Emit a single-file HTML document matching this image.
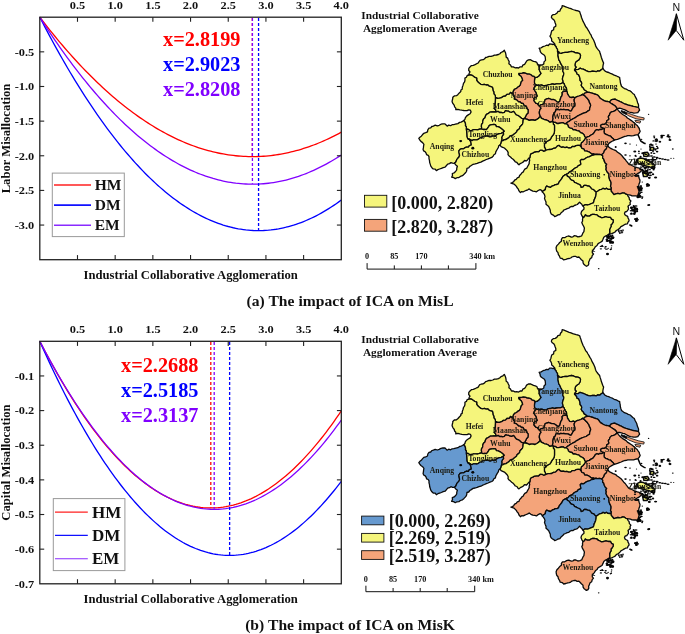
<!DOCTYPE html>
<html><head><meta charset="utf-8"><title>ICA</title>
<style>
html,body{margin:0;padding:0;background:#fff;}
body{width:685px;height:634px;overflow:hidden;}
svg{display:block;}
text{font-family:"Liberation Serif",serif;font-weight:bold;fill:#111;}
.tk{font-size:12px;}
.an{font-size:20.3px;}
.lg{font-size:16.8px;}
.ax{font-size:12.65px;}
.cap{font-size:15.6px;word-spacing:0.2px;}
.ttl{font-size:11.35px;}
.ml{font-size:18px;}
.sb{font-size:8.2px;}
.ct{font-size:7.7px;fill:#1a1a10;}
.n{font-family:"Liberation Sans",sans-serif;font-weight:normal;font-size:10.6px;}
</style></head><body>
<svg width="685" height="634" viewBox="0 0 685 634">
<rect width="685" height="634" fill="#fff"/>
<polyline points="39.80,17.20 42.31,20.48 44.82,23.71 47.34,26.91 49.85,30.07 52.36,33.19 54.88,36.27 57.39,39.32 59.90,42.32 62.41,45.28 64.92,48.21 67.44,51.10 69.95,53.94 72.46,56.75 74.97,59.52 77.49,62.25 80.00,64.94 82.51,67.60 85.03,70.21 87.54,72.79 90.05,75.32 92.56,77.82 95.07,80.28 97.59,82.70 100.10,85.08 102.61,87.42 105.12,89.72 107.64,91.98 110.15,94.21 112.66,96.39 115.17,98.54 117.69,100.65 120.20,102.72 122.71,104.75 125.22,106.74 127.74,108.69 130.25,110.60 132.76,112.47 135.27,114.31 137.79,116.10 140.30,117.86 142.81,119.58 145.32,121.26 147.84,122.90 150.35,124.50 152.86,126.06 155.38,127.58 157.89,129.07 160.40,130.51 162.91,131.92 165.43,133.29 167.94,134.62 170.45,135.91 172.96,137.16 175.48,138.37 177.99,139.54 180.50,140.67 183.01,141.77 185.52,142.82 188.04,143.84 190.55,144.82 193.06,145.76 195.57,146.66 198.09,147.52 200.60,148.34 203.11,149.12 205.62,149.87 208.14,150.57 210.65,151.24 213.16,151.86 215.68,152.45 218.19,153.00 220.70,153.51 223.21,153.98 225.73,154.42 228.24,154.81 230.75,155.16 233.26,155.48 235.77,155.76 238.29,155.99 240.80,156.19 243.31,156.35 245.82,156.47 248.34,156.55 250.85,156.60 253.36,156.60 255.88,156.56 258.39,156.49 260.90,156.38 263.41,156.23 265.93,156.03 268.44,155.80 270.95,155.54 273.46,155.23 275.98,154.88 278.49,154.49 281.00,154.07 283.51,153.61 286.02,153.10 288.54,152.56 291.05,151.98 293.56,151.36 296.07,150.70 298.59,150.01 301.10,149.27 303.61,148.49 306.12,147.68 308.64,146.83 311.15,145.93 313.66,145.00 316.18,144.03 318.69,143.02 321.20,141.98 323.71,140.89 326.23,139.76 328.74,138.60 331.25,137.39 333.76,136.15 336.27,134.87 338.79,133.55 341.30,132.19" fill="none" stroke="#ff0000" stroke-width="1.3"/>
<polyline points="39.80,17.20 42.31,22.07 44.82,26.89 47.34,31.65 49.85,36.36 52.36,41.01 54.88,45.60 57.39,50.13 59.90,54.61 62.41,59.04 64.92,63.40 67.44,67.71 69.95,71.97 72.46,76.17 74.97,80.31 77.49,84.39 80.00,88.42 82.51,92.40 85.03,96.31 87.54,100.17 90.05,103.98 92.56,107.73 95.07,111.42 97.59,115.05 100.10,118.63 102.61,122.15 105.12,125.62 107.64,129.03 110.15,132.38 112.66,135.68 115.17,138.92 117.69,142.11 120.20,145.23 122.71,148.31 125.22,151.32 127.74,154.28 130.25,157.19 132.76,160.03 135.27,162.82 137.79,165.56 140.30,168.24 142.81,170.86 145.32,173.42 147.84,175.93 150.35,178.38 152.86,180.78 155.38,183.12 157.89,185.41 160.40,187.63 162.91,189.80 165.43,191.92 167.94,193.98 170.45,195.98 172.96,197.93 175.48,199.82 177.99,201.65 180.50,203.43 183.01,205.15 185.52,206.81 188.04,208.42 190.55,209.97 193.06,211.47 195.57,212.91 198.09,214.29 200.60,215.62 203.11,216.89 205.62,218.10 208.14,219.26 210.65,220.36 213.16,221.41 215.68,222.40 218.19,223.33 220.70,224.21 223.21,225.03 225.73,225.79 228.24,226.50 230.75,227.15 233.26,227.75 235.77,228.28 238.29,228.77 240.80,229.19 243.31,229.56 245.82,229.88 248.34,230.13 250.85,230.33 253.36,230.48 255.88,230.57 258.39,230.60 260.90,230.58 263.41,230.50 265.93,230.36 268.44,230.17 270.95,229.92 273.46,229.61 275.98,229.25 278.49,228.83 281.00,228.35 283.51,227.82 286.02,227.24 288.54,226.59 291.05,225.89 293.56,225.14 296.07,224.32 298.59,223.46 301.10,222.53 303.61,221.55 306.12,220.51 308.64,219.42 311.15,218.27 313.66,217.06 316.18,215.80 318.69,214.48 321.20,213.10 323.71,211.67 326.23,210.18 328.74,208.64 331.25,207.04 333.76,205.38 336.27,203.67 338.79,201.90 341.30,200.07" fill="none" stroke="#0000ff" stroke-width="1.3"/>
<polyline points="39.80,17.20 42.31,21.12 44.82,25.00 47.34,28.83 49.85,32.61 52.36,36.35 54.88,40.04 57.39,43.68 59.90,47.28 62.41,50.83 64.92,54.33 67.44,57.79 69.95,61.20 72.46,64.56 74.97,67.88 77.49,71.15 80.00,74.37 82.51,77.55 85.03,80.68 87.54,83.76 90.05,86.80 92.56,89.79 95.07,92.73 97.59,95.63 100.10,98.48 102.61,101.29 105.12,104.04 107.64,106.75 110.15,109.42 112.66,112.03 115.17,114.61 117.69,117.13 120.20,119.61 122.71,122.04 125.22,124.42 127.74,126.76 130.25,129.05 132.76,131.29 135.27,133.49 137.79,135.64 140.30,137.75 142.81,139.80 145.32,141.82 147.84,143.78 150.35,145.70 152.86,147.57 155.38,149.39 157.89,151.17 160.40,152.90 162.91,154.59 165.43,156.23 167.94,157.82 170.45,159.36 172.96,160.86 175.48,162.31 177.99,163.72 180.50,165.07 183.01,166.39 185.52,167.65 188.04,168.87 190.55,170.04 193.06,171.17 195.57,172.24 198.09,173.28 200.60,174.26 203.11,175.20 205.62,176.09 208.14,176.94 210.65,177.73 213.16,178.49 215.68,179.19 218.19,179.85 220.70,180.46 223.21,181.03 225.73,181.55 228.24,182.02 230.75,182.44 233.26,182.82 235.77,183.16 238.29,183.44 240.80,183.68 243.31,183.87 245.82,184.02 248.34,184.12 250.85,184.17 253.36,184.18 255.88,184.13 258.39,184.05 260.90,183.91 263.41,183.73 265.93,183.50 268.44,183.23 270.95,182.91 273.46,182.54 275.98,182.13 278.49,181.67 281.00,181.16 283.51,180.61 286.02,180.01 288.54,179.36 291.05,178.67 293.56,177.93 296.07,177.14 298.59,176.30 301.10,175.42 303.61,174.50 306.12,173.52 308.64,172.50 311.15,171.44 313.66,170.32 316.18,169.16 318.69,167.96 321.20,166.70 323.71,165.40 326.23,164.06 328.74,162.66 331.25,161.22 333.76,159.74 336.27,158.20 338.79,156.62 341.30,155.00" fill="none" stroke="#8000ff" stroke-width="1.3"/>
<line x1="252.35" y1="18.00" x2="252.35" y2="156.10" stroke="#ff0000" stroke-width="1.3" stroke-dasharray="3 2"/>
<line x1="258.56" y1="18.00" x2="258.56" y2="230.10" stroke="#0000ff" stroke-width="1.3" stroke-dasharray="3 2"/>
<line x1="252.42" y1="18.00" x2="252.42" y2="183.68" stroke="#8000ff" stroke-width="1.3" stroke-dasharray="3 2"/>
<rect x="39.80" y="17.20" width="301.50" height="242.50" fill="none" stroke="#222" stroke-width="1.3"/>
<line x1="77.49" y1="17.20" x2="77.49" y2="21.80" stroke="#222" stroke-width="1.1"/>
<line x1="77.49" y1="259.70" x2="77.49" y2="255.10" stroke="#222" stroke-width="1.1"/>
<line x1="115.17" y1="17.20" x2="115.17" y2="21.80" stroke="#222" stroke-width="1.1"/>
<line x1="115.17" y1="259.70" x2="115.17" y2="255.10" stroke="#222" stroke-width="1.1"/>
<line x1="152.86" y1="17.20" x2="152.86" y2="21.80" stroke="#222" stroke-width="1.1"/>
<line x1="152.86" y1="259.70" x2="152.86" y2="255.10" stroke="#222" stroke-width="1.1"/>
<line x1="190.55" y1="17.20" x2="190.55" y2="21.80" stroke="#222" stroke-width="1.1"/>
<line x1="190.55" y1="259.70" x2="190.55" y2="255.10" stroke="#222" stroke-width="1.1"/>
<line x1="228.24" y1="17.20" x2="228.24" y2="21.80" stroke="#222" stroke-width="1.1"/>
<line x1="228.24" y1="259.70" x2="228.24" y2="255.10" stroke="#222" stroke-width="1.1"/>
<line x1="265.93" y1="17.20" x2="265.93" y2="21.80" stroke="#222" stroke-width="1.1"/>
<line x1="265.93" y1="259.70" x2="265.93" y2="255.10" stroke="#222" stroke-width="1.1"/>
<line x1="303.61" y1="17.20" x2="303.61" y2="21.80" stroke="#222" stroke-width="1.1"/>
<line x1="303.61" y1="259.70" x2="303.61" y2="255.10" stroke="#222" stroke-width="1.1"/>
<text transform="translate(77.49,9.10) scale(1.03,0.93)" class="tk" text-anchor="middle">0.5</text>
<text transform="translate(115.17,9.10) scale(1.03,0.93)" class="tk" text-anchor="middle">1.0</text>
<text transform="translate(152.86,9.10) scale(1.03,0.93)" class="tk" text-anchor="middle">1.5</text>
<text transform="translate(190.55,9.10) scale(1.03,0.93)" class="tk" text-anchor="middle">2.0</text>
<text transform="translate(228.24,9.10) scale(1.03,0.93)" class="tk" text-anchor="middle">2.5</text>
<text transform="translate(265.93,9.10) scale(1.03,0.93)" class="tk" text-anchor="middle">3.0</text>
<text transform="translate(303.61,9.10) scale(1.03,0.93)" class="tk" text-anchor="middle">3.5</text>
<text transform="translate(341.30,9.10) scale(1.03,0.93)" class="tk" text-anchor="middle">4.0</text>
<line x1="39.80" y1="51.84" x2="44.20" y2="51.84" stroke="#222" stroke-width="1.1"/>
<line x1="341.30" y1="51.84" x2="336.90" y2="51.84" stroke="#222" stroke-width="1.1"/>
<text transform="translate(34.20,55.64) scale(1.03,0.93)" class="tk" text-anchor="end">-0.5</text>
<line x1="39.80" y1="86.49" x2="44.20" y2="86.49" stroke="#222" stroke-width="1.1"/>
<line x1="341.30" y1="86.49" x2="336.90" y2="86.49" stroke="#222" stroke-width="1.1"/>
<text transform="translate(34.20,90.29) scale(1.03,0.93)" class="tk" text-anchor="end">-1.0</text>
<line x1="39.80" y1="121.13" x2="44.20" y2="121.13" stroke="#222" stroke-width="1.1"/>
<line x1="341.30" y1="121.13" x2="336.90" y2="121.13" stroke="#222" stroke-width="1.1"/>
<text transform="translate(34.20,124.93) scale(1.03,0.93)" class="tk" text-anchor="end">-1.5</text>
<line x1="39.80" y1="155.77" x2="44.20" y2="155.77" stroke="#222" stroke-width="1.1"/>
<line x1="341.30" y1="155.77" x2="336.90" y2="155.77" stroke="#222" stroke-width="1.1"/>
<text transform="translate(34.20,159.57) scale(1.03,0.93)" class="tk" text-anchor="end">-2.0</text>
<line x1="39.80" y1="190.41" x2="44.20" y2="190.41" stroke="#222" stroke-width="1.1"/>
<line x1="341.30" y1="190.41" x2="336.90" y2="190.41" stroke="#222" stroke-width="1.1"/>
<text transform="translate(34.20,194.21) scale(1.03,0.93)" class="tk" text-anchor="end">-2.5</text>
<line x1="39.80" y1="225.06" x2="44.20" y2="225.06" stroke="#222" stroke-width="1.1"/>
<line x1="341.30" y1="225.06" x2="336.90" y2="225.06" stroke="#222" stroke-width="1.1"/>
<text transform="translate(34.20,228.86) scale(1.03,0.93)" class="tk" text-anchor="end">-3.0</text>
<text x="163.00" y="46.30" class="an" style="fill:#ff0000">x=2.8199</text>
<text x="163.00" y="70.95" class="an" style="fill:#0000ff">x=2.9023</text>
<text x="163.00" y="95.60" class="an" style="fill:#8000ff">x=2.8208</text>
<rect x="52.30" y="173.10" width="72.00" height="63.50" fill="#fff" stroke="#999" stroke-width="1"/>
<line x1="54.00" y1="185.00" x2="91.00" y2="185.00" stroke="#ff2020" stroke-width="1.60"/>
<text x="94.70" y="190.20" class="lg" style="font-size:15.5px">HM</text>
<line x1="54.00" y1="205.10" x2="91.00" y2="205.10" stroke="#1010ff" stroke-width="1.60"/>
<text x="94.70" y="210.30" class="lg" style="font-size:15.5px">DM</text>
<line x1="54.00" y1="225.20" x2="91.00" y2="225.20" stroke="#8a2bff" stroke-width="1.60"/>
<text x="94.70" y="230.40" class="lg" style="font-size:15.5px">EM</text>
<text x="190.7" y="278.60" class="ax" text-anchor="middle">Industrial Collaborative Agglomeration</text>
<text transform="translate(10.4,138.50) rotate(-90)" class="ax" text-anchor="middle">Labor Misallocation</text>
<polyline points="39.80,341.30 42.31,346.16 44.82,350.95 47.34,355.67 49.85,360.31 52.36,364.88 54.88,369.38 57.39,373.81 59.90,378.17 62.41,382.45 64.92,386.67 67.44,390.81 69.95,394.88 72.46,398.87 74.97,402.80 77.49,406.65 80.00,410.43 82.51,414.14 85.03,417.78 87.54,421.35 90.05,424.84 92.56,428.26 95.07,431.61 97.59,434.89 100.10,438.09 102.61,441.23 105.12,444.29 107.64,447.28 110.15,450.20 112.66,453.04 115.17,455.82 117.69,458.52 120.20,461.15 122.71,463.71 125.22,466.20 127.74,468.61 130.25,470.95 132.76,473.22 135.27,475.42 137.79,477.55 140.30,479.60 142.81,481.59 145.32,483.50 147.84,485.34 150.35,487.10 152.86,488.80 155.38,490.42 157.89,491.97 160.40,493.45 162.91,494.86 165.43,496.20 167.94,497.46 170.45,498.65 172.96,499.77 175.48,500.82 177.99,501.79 180.50,502.70 183.01,503.53 185.52,504.29 188.04,504.98 190.55,505.59 193.06,506.14 195.57,506.61 198.09,507.01 200.60,507.34 203.11,507.59 205.62,507.78 208.14,507.89 210.65,507.93 213.16,507.90 215.68,507.80 218.19,507.62 220.70,507.37 223.21,507.06 225.73,506.66 228.24,506.20 230.75,505.67 233.26,505.06 235.77,504.38 238.29,503.63 240.80,502.81 243.31,501.91 245.82,500.95 248.34,499.91 250.85,498.80 253.36,497.62 255.88,496.36 258.39,495.03 260.90,493.64 263.41,492.17 265.93,490.62 268.44,489.01 270.95,487.32 273.46,485.57 275.98,483.74 278.49,481.84 281.00,479.86 283.51,477.82 286.02,475.70 288.54,473.51 291.05,471.25 293.56,468.91 296.07,466.51 298.59,464.03 301.10,461.48 303.61,458.86 306.12,456.17 308.64,453.40 311.15,450.57 313.66,447.66 316.18,444.68 318.69,441.62 321.20,438.50 323.71,435.30 326.23,432.03 328.74,428.69 331.25,425.28 333.76,421.80 336.27,418.24 338.79,414.61 341.30,410.91" fill="none" stroke="#ff0000" stroke-width="1.3"/>
<polyline points="39.80,341.30 42.31,346.93 44.82,352.48 47.34,357.96 49.85,363.37 52.36,368.70 54.88,373.95 57.39,379.13 59.90,384.24 62.41,389.27 64.92,394.22 67.44,399.10 69.95,403.91 72.46,408.64 74.97,413.29 77.49,417.87 80.00,422.37 82.51,426.80 85.03,431.16 87.54,435.44 90.05,439.64 92.56,443.77 95.07,447.83 97.59,451.81 100.10,455.71 102.61,459.54 105.12,463.29 107.64,466.97 110.15,470.58 112.66,474.11 115.17,477.56 117.69,480.94 120.20,484.25 122.71,487.48 125.22,490.63 127.74,493.71 130.25,496.71 132.76,499.64 135.27,502.50 137.79,505.28 140.30,507.98 142.81,510.61 145.32,513.17 147.84,515.65 150.35,518.05 152.86,520.38 155.38,522.63 157.89,524.81 160.40,526.92 162.91,528.95 165.43,530.90 167.94,532.78 170.45,534.58 172.96,536.31 175.48,537.97 177.99,539.55 180.50,541.05 183.01,542.48 185.52,543.83 188.04,545.11 190.55,546.32 193.06,547.45 195.57,548.50 198.09,549.48 200.60,550.39 203.11,551.21 205.62,551.97 208.14,552.65 210.65,553.25 213.16,553.78 215.68,554.24 218.19,554.61 220.70,554.92 223.21,555.15 225.73,555.30 228.24,555.38 230.75,555.39 233.26,555.31 235.77,555.17 238.29,554.95 240.80,554.65 243.31,554.28 245.82,553.84 248.34,553.31 250.85,552.72 253.36,552.05 255.88,551.30 258.39,550.48 260.90,549.58 263.41,548.61 265.93,547.57 268.44,546.45 270.95,545.25 273.46,543.98 275.98,542.63 278.49,541.21 281.00,539.72 283.51,538.15 286.02,536.50 288.54,534.78 291.05,532.98 293.56,531.11 296.07,529.16 298.59,527.14 301.10,525.05 303.61,522.88 306.12,520.63 308.64,518.31 311.15,515.91 313.66,513.44 316.18,510.90 318.69,508.27 321.20,505.58 323.71,502.81 326.23,499.96 328.74,497.04 331.25,494.04 333.76,490.97 336.27,487.83 338.79,484.61 341.30,481.31" fill="none" stroke="#0000ff" stroke-width="1.3"/>
<polyline points="39.80,341.30 42.31,346.11 44.82,350.84 47.34,355.51 49.85,360.11 52.36,364.63 54.88,369.09 57.39,373.48 59.90,377.80 62.41,382.05 64.92,386.23 67.44,390.33 69.95,394.37 72.46,398.34 74.97,402.24 77.49,406.07 80.00,409.83 82.51,413.52 85.03,417.14 87.54,420.69 90.05,424.18 92.56,427.59 95.07,430.93 97.59,434.20 100.10,437.40 102.61,440.54 105.12,443.60 107.64,446.59 110.15,449.51 112.66,452.37 115.17,455.15 117.69,457.86 120.20,460.51 122.71,463.08 125.22,465.59 127.74,468.02 130.25,470.39 132.76,472.68 135.27,474.91 137.79,477.07 140.30,479.15 142.81,481.17 145.32,483.12 147.84,484.99 150.35,486.80 152.86,488.54 155.38,490.20 157.89,491.80 160.40,493.33 162.91,494.79 165.43,496.18 167.94,497.50 170.45,498.75 172.96,499.93 175.48,501.04 177.99,502.08 180.50,503.05 183.01,503.95 185.52,504.78 188.04,505.54 190.55,506.23 193.06,506.85 195.57,507.40 198.09,507.88 200.60,508.30 203.11,508.64 205.62,508.91 208.14,509.12 210.65,509.25 213.16,509.31 215.68,509.31 218.19,509.23 220.70,509.08 223.21,508.87 225.73,508.58 228.24,508.23 230.75,507.80 233.26,507.31 235.77,506.75 238.29,506.11 240.80,505.41 243.31,504.63 245.82,503.79 248.34,502.88 250.85,501.90 253.36,500.84 255.88,499.72 258.39,498.53 260.90,497.27 263.41,495.94 265.93,494.53 268.44,493.06 270.95,491.52 273.46,489.91 275.98,488.23 278.49,486.48 281.00,484.66 283.51,482.77 286.02,480.81 288.54,478.79 291.05,476.69 293.56,474.52 296.07,472.28 298.59,469.97 301.10,467.59 303.61,465.15 306.12,462.63 308.64,460.04 311.15,457.39 313.66,454.66 316.18,451.86 318.69,449.00 321.20,446.06 323.71,443.06 326.23,439.98 328.74,436.84 331.25,433.62 333.76,430.34 336.27,426.98 338.79,423.56 341.30,420.07" fill="none" stroke="#8000ff" stroke-width="1.3"/>
<line x1="210.81" y1="342.10" x2="210.81" y2="507.43" stroke="#ff0000" stroke-width="1.3" stroke-dasharray="3 2"/>
<line x1="229.63" y1="342.10" x2="229.63" y2="554.89" stroke="#0000ff" stroke-width="1.3" stroke-dasharray="3 2"/>
<line x1="214.20" y1="342.10" x2="214.20" y2="508.82" stroke="#8000ff" stroke-width="1.3" stroke-dasharray="3 2"/>
<rect x="39.80" y="341.30" width="301.50" height="242.50" fill="none" stroke="#222" stroke-width="1.3"/>
<line x1="77.49" y1="341.30" x2="77.49" y2="345.90" stroke="#222" stroke-width="1.1"/>
<line x1="77.49" y1="583.80" x2="77.49" y2="579.20" stroke="#222" stroke-width="1.1"/>
<line x1="115.17" y1="341.30" x2="115.17" y2="345.90" stroke="#222" stroke-width="1.1"/>
<line x1="115.17" y1="583.80" x2="115.17" y2="579.20" stroke="#222" stroke-width="1.1"/>
<line x1="152.86" y1="341.30" x2="152.86" y2="345.90" stroke="#222" stroke-width="1.1"/>
<line x1="152.86" y1="583.80" x2="152.86" y2="579.20" stroke="#222" stroke-width="1.1"/>
<line x1="190.55" y1="341.30" x2="190.55" y2="345.90" stroke="#222" stroke-width="1.1"/>
<line x1="190.55" y1="583.80" x2="190.55" y2="579.20" stroke="#222" stroke-width="1.1"/>
<line x1="228.24" y1="341.30" x2="228.24" y2="345.90" stroke="#222" stroke-width="1.1"/>
<line x1="228.24" y1="583.80" x2="228.24" y2="579.20" stroke="#222" stroke-width="1.1"/>
<line x1="265.93" y1="341.30" x2="265.93" y2="345.90" stroke="#222" stroke-width="1.1"/>
<line x1="265.93" y1="583.80" x2="265.93" y2="579.20" stroke="#222" stroke-width="1.1"/>
<line x1="303.61" y1="341.30" x2="303.61" y2="345.90" stroke="#222" stroke-width="1.1"/>
<line x1="303.61" y1="583.80" x2="303.61" y2="579.20" stroke="#222" stroke-width="1.1"/>
<text transform="translate(77.49,333.20) scale(1.03,0.93)" class="tk" text-anchor="middle">0.5</text>
<text transform="translate(115.17,333.20) scale(1.03,0.93)" class="tk" text-anchor="middle">1.0</text>
<text transform="translate(152.86,333.20) scale(1.03,0.93)" class="tk" text-anchor="middle">1.5</text>
<text transform="translate(190.55,333.20) scale(1.03,0.93)" class="tk" text-anchor="middle">2.0</text>
<text transform="translate(228.24,333.20) scale(1.03,0.93)" class="tk" text-anchor="middle">2.5</text>
<text transform="translate(265.93,333.20) scale(1.03,0.93)" class="tk" text-anchor="middle">3.0</text>
<text transform="translate(303.61,333.20) scale(1.03,0.93)" class="tk" text-anchor="middle">3.5</text>
<text transform="translate(341.30,333.20) scale(1.03,0.93)" class="tk" text-anchor="middle">4.0</text>
<line x1="39.80" y1="375.94" x2="44.20" y2="375.94" stroke="#222" stroke-width="1.1"/>
<line x1="341.30" y1="375.94" x2="336.90" y2="375.94" stroke="#222" stroke-width="1.1"/>
<text transform="translate(34.20,379.74) scale(1.03,0.93)" class="tk" text-anchor="end">-0.1</text>
<line x1="39.80" y1="410.59" x2="44.20" y2="410.59" stroke="#222" stroke-width="1.1"/>
<line x1="341.30" y1="410.59" x2="336.90" y2="410.59" stroke="#222" stroke-width="1.1"/>
<text transform="translate(34.20,414.39) scale(1.03,0.93)" class="tk" text-anchor="end">-0.2</text>
<line x1="39.80" y1="445.23" x2="44.20" y2="445.23" stroke="#222" stroke-width="1.1"/>
<line x1="341.30" y1="445.23" x2="336.90" y2="445.23" stroke="#222" stroke-width="1.1"/>
<text transform="translate(34.20,449.03) scale(1.03,0.93)" class="tk" text-anchor="end">-0.3</text>
<line x1="39.80" y1="479.87" x2="44.20" y2="479.87" stroke="#222" stroke-width="1.1"/>
<line x1="341.30" y1="479.87" x2="336.90" y2="479.87" stroke="#222" stroke-width="1.1"/>
<text transform="translate(34.20,483.67) scale(1.03,0.93)" class="tk" text-anchor="end">-0.4</text>
<line x1="39.80" y1="514.51" x2="44.20" y2="514.51" stroke="#222" stroke-width="1.1"/>
<line x1="341.30" y1="514.51" x2="336.90" y2="514.51" stroke="#222" stroke-width="1.1"/>
<text transform="translate(34.20,518.31) scale(1.03,0.93)" class="tk" text-anchor="end">-0.5</text>
<line x1="39.80" y1="549.16" x2="44.20" y2="549.16" stroke="#222" stroke-width="1.1"/>
<line x1="341.30" y1="549.16" x2="336.90" y2="549.16" stroke="#222" stroke-width="1.1"/>
<text transform="translate(34.20,552.96) scale(1.03,0.93)" class="tk" text-anchor="end">-0.6</text>
<text transform="translate(34.20,587.60) scale(1.03,0.93)" class="tk" text-anchor="end">-0.7</text>
<text x="121.00" y="372.10" class="an" style="fill:#ff0000">x=2.2688</text>
<text x="121.00" y="396.95" class="an" style="fill:#0000ff">x=2.5185</text>
<text x="121.00" y="421.80" class="an" style="fill:#8000ff">x=2.3137</text>
<rect x="53.30" y="498.60" width="71.60" height="72.00" fill="#fff" stroke="#999" stroke-width="1"/>
<line x1="55.00" y1="512.20" x2="87.80" y2="512.20" stroke="#ff2020" stroke-width="1.20"/>
<text x="92.00" y="517.90" class="lg" style="font-size:17.0px">HM</text>
<line x1="55.00" y1="535.40" x2="87.80" y2="535.40" stroke="#1010ff" stroke-width="1.20"/>
<text x="92.00" y="541.10" class="lg" style="font-size:17.0px">DM</text>
<line x1="55.00" y1="558.75" x2="87.80" y2="558.75" stroke="#8a2bff" stroke-width="1.20"/>
<text x="92.00" y="564.45" class="lg" style="font-size:17.0px">EM</text>
<text x="190.7" y="602.70" class="ax" text-anchor="middle">Industrial Collaborative Agglomeration</text>
<text transform="translate(10.4,462.60) rotate(-90)" class="ax" text-anchor="middle">Capital Misallocation</text>
<g transform="translate(0,0.00)">
<g stroke="#0a0a0a" stroke-width="1.3" stroke-linejoin="round">
<polygon fill="#f5f57c" points="554.6,43.8 553.3,42.2 551.7,40.9 551.6,39.1 550.9,37.6 549.9,36.2 550.8,34.6 551.2,32.7 551.7,30.9 553.6,29.8 553.9,27.4 555.8,26.3 555.8,24.4 555.1,22.7 554.6,21.0 553.7,19.6 552.3,18.7 551.4,17.4 551.7,15.8 553.2,14.6 555.2,14.3 556.8,13.3 557.9,11.5 559.9,11.1 560.5,9.2 561.9,7.6 562.2,5.6 564.0,6.1 565.7,6.8 567.5,7.5 569.2,8.2 571.0,8.7 572.7,9.5 574.4,10.0 576.2,10.5 578.0,10.9 579.7,11.7 580.3,13.6 581.0,15.5 581.5,17.5 582.3,19.5 583.1,21.4 584.1,23.2 585.0,25.1 585.8,26.8 587.1,28.2 588.0,29.9 589.0,31.5 589.9,33.3 591.0,34.9 591.7,36.8 592.7,38.5 593.7,40.3 594.4,41.9 595.0,43.4 595.4,45.1 596.0,46.7 597.1,48.4 598.3,49.9 599.6,51.4 600.1,53.3 600.8,55.3 601.3,57.2 602.0,59.2 602.7,61.1 603.6,63.0 603.2,64.7 602.9,66.4 602.8,68.2 602.1,69.2 601.0,69.9 599.7,71.1 597.8,70.8 596.4,71.7 594.4,71.4 592.5,71.2 590.5,71.7 588.4,71.6 586.5,70.8 584.7,69.9 583.2,69.2 581.6,68.8 580.0,68.2 578.4,69.4 576.4,69.6 574.5,70.0 575.1,68.5 576.2,67.2 575.0,65.9 575.0,64.2 575.7,62.1 577.4,60.7 578.8,59.9 579.6,58.6 580.3,57.2 580.5,55.4 579.7,53.7 577.7,53.0 575.5,52.9 573.6,51.9 571.5,51.4 569.5,51.8 567.5,52.4 565.4,52.3 563.4,52.6 561.4,53.3 559.3,53.1 558.7,51.9 557.5,51.4 557.5,49.5 556.4,47.9 555.9,46.5 554.8,45.4"/>
<polygon fill="#f5f57c" points="554.6,43.8 554.8,45.4 555.9,46.5 556.4,47.9 557.5,49.5 557.5,51.4 558.1,53.4 558.0,55.5 558.4,57.5 558.7,59.6 559.9,61.4 560.7,63.4 561.7,65.2 562.8,67.0 563.0,69.2 562.8,71.2 563.8,73.0 563.6,75.0 563.0,76.5 562.5,78.1 562.5,79.7 563.1,81.1 563.0,82.6 561.5,83.3 560.0,83.8 558.4,83.8 556.5,83.9 554.5,84.4 552.6,83.8 550.6,84.4 548.6,84.6 546.7,85.5 544.7,85.7 542.8,85.4 540.9,85.0 539.0,85.7 536.9,85.1 535.0,86.1 535.3,84.6 534.5,83.2 534.4,81.2 534.6,79.3 535.0,77.4 536.9,77.3 538.5,76.2 539.8,74.8 540.9,73.3 540.1,72.0 539.5,70.7 539.1,69.2 539.1,67.1 539.7,65.1 541.9,65.2 543.8,63.9 544.0,61.9 545.5,60.4 545.4,58.6 545.2,56.8 544.4,55.2 542.9,54.2 541.4,53.2 540.3,51.7 540.0,49.8 539.1,48.2 541.2,47.8 543.0,46.6 545.0,46.0 546.5,45.2 548.3,45.5 549.6,44.0 551.4,44.1 553.1,44.5"/>
<polygon fill="#f5f57c" points="557.5,51.4 558.7,51.9 559.3,53.1 561.4,53.3 563.4,52.6 565.4,52.3 567.5,52.4 569.5,51.8 571.5,51.4 573.6,51.9 575.5,52.9 577.7,53.0 579.7,53.7 580.5,55.4 580.3,57.2 579.6,58.6 578.8,59.9 577.4,60.7 575.7,62.1 575.0,64.2 575.0,65.9 576.2,67.2 575.1,68.5 574.5,70.0 575.6,71.2 576.7,72.4 577.0,74.0 578.7,74.8 579.4,76.5 580.0,78.4 580.1,80.4 581.4,82.0 581.8,83.5 581.2,85.2 582.0,86.7 583.4,88.0 584.3,89.8 586.0,90.8 587.5,92.2 586.3,92.6 585.0,93.0 584.0,94.1 582.6,94.3 580.9,95.4 579.0,96.0 576.9,96.6 575.0,97.8 573.3,97.1 571.5,97.5 569.7,97.2 568.5,95.5 567.4,93.7 567.4,92.4 566.6,91.4 566.6,89.7 566.4,88.1 565.4,86.7 564.6,85.3 564.1,83.8 563.0,82.6 563.1,81.1 562.5,79.7 562.5,78.1 563.0,76.5 563.6,75.0 563.8,73.0 562.8,71.2 563.0,69.2 562.8,67.0 561.7,65.2 560.7,63.4 559.9,61.4 558.7,59.6 558.4,57.5 558.0,55.5 558.1,53.4"/>
<polygon fill="#f5f57c" points="574.5,70.0 576.4,69.6 578.4,69.4 580.0,68.2 581.6,68.8 583.2,69.2 584.7,69.9 586.5,70.8 588.4,71.6 590.5,71.7 592.5,71.2 594.4,71.4 596.4,71.7 597.8,70.8 599.7,71.1 601.0,69.9 602.1,69.2 602.8,68.2 603.8,69.7 605.1,71.1 606.8,72.0 608.7,72.5 610.4,73.4 612.4,74.1 614.2,75.2 616.2,75.8 617.9,76.7 619.7,77.5 619.8,79.1 620.2,80.6 620.3,82.2 620.8,84.3 621.5,86.3 622.9,87.5 624.4,88.6 626.4,89.2 628.2,90.3 630.2,90.9 631.5,92.1 632.8,93.4 634.3,94.5 635.0,96.1 635.8,97.6 636.6,99.1 637.1,100.9 637.6,102.7 638.4,104.4 638.6,105.8 638.4,107.3 636.6,107.1 634.9,106.7 633.3,106.4 631.7,106.0 630.2,105.5 628.2,105.1 626.3,104.4 624.4,103.8 622.9,103.0 621.3,102.1 619.7,101.5 618.2,100.6 616.5,100.0 615.0,99.1 613.2,99.3 611.5,99.7 610.4,100.9 609.2,102.0 607.7,101.5 606.0,101.4 604.5,100.9 603.1,100.1 601.8,99.3 600.4,98.5 599.5,97.3 598.6,96.0 597.5,95.0 595.9,94.4 594.3,94.0 592.8,93.3 591.1,92.9 589.3,92.3 587.5,92.2 586.0,90.8 584.3,89.8 583.4,88.0 582.0,86.7 581.2,85.2 581.8,83.5 581.4,82.0 580.1,80.4 580.0,78.4 579.4,76.5 578.7,74.8 577.0,74.0 576.7,72.4 575.6,71.2"/>
<polygon fill="#f4a47a" points="609.2,102.0 610.4,100.9 611.5,99.7 613.2,99.3 615.0,99.1 616.5,100.0 618.2,100.6 619.7,101.5 621.3,102.1 622.9,103.0 624.4,103.8 626.3,104.4 628.2,105.1 630.2,105.5 631.7,106.0 633.3,106.4 634.9,106.7 636.6,107.1 638.4,107.3 639.1,108.7 639.6,110.2 638.6,111.3 637.8,112.6 635.8,112.9 633.7,113.1 632.2,112.7 630.6,112.5 629.1,112.0 627.5,111.3 626.0,110.4 624.4,109.6 622.8,109.2 621.3,108.7 619.7,108.2 618.3,108.4 617.0,108.6 616.3,107.4 615.5,106.3 614.1,105.3 612.7,104.4 610.9,103.2"/>
<polygon fill="#f4a47a" points="512.8,93.9 512.9,92.1 513.5,90.5 514.6,89.0 516.4,88.4 517.7,87.0 519.3,86.2 520.4,84.6 520.7,82.9 521.2,81.4 522.6,80.2 522.0,78.4 521.2,76.6 519.5,75.3 518.7,73.3 520.3,73.4 521.9,73.1 523.4,72.7 525.4,73.0 527.2,73.8 529.2,73.9 530.8,74.5 532.2,75.8 533.9,76.2 535.0,77.4 534.6,79.3 534.4,81.2 534.5,83.2 535.3,84.6 535.0,86.1 534.3,87.5 533.9,89.0 535.0,90.8 536.2,92.6 536.6,94.4 537.4,96.1 535.9,97.6 533.9,98.4 534.4,99.6 533.9,100.7 534.9,101.9 535.8,103.1 537.4,103.6 538.3,104.9 539.5,106.0 540.4,107.1 541.1,108.3 540.0,109.6 539.5,111.2 539.3,112.9 539.7,114.8 540.5,116.5 539.4,117.2 538.7,118.2 536.9,119.4 535.0,120.4 533.1,120.0 531.1,120.0 529.2,120.4 527.4,119.4 525.5,118.9 523.5,118.7 525.1,117.6 525.9,115.8 526.6,114.3 527.9,113.2 528.1,111.4 528.1,109.8 526.9,108.5 526.6,107.0 525.2,106.0 523.8,105.0 523.0,103.4 521.4,103.4 520.2,102.0 518.6,101.9 517.4,100.6 516.0,99.5 514.2,99.0 514.4,97.1 513.1,95.6"/>
<polygon fill="#f5f57c" points="535.0,86.1 536.9,85.1 539.0,85.7 540.9,85.0 542.8,85.4 544.7,85.7 546.7,85.5 548.6,84.6 550.6,84.4 552.6,83.8 554.5,84.4 556.5,83.9 558.4,83.8 560.0,83.8 561.5,83.3 563.0,82.6 564.1,83.8 564.6,85.3 565.4,86.7 566.4,88.1 566.6,89.7 566.6,91.4 564.9,91.1 563.4,91.5 562.1,92.5 562.3,94.2 561.9,95.8 560.9,97.2 560.3,99.2 559.8,101.3 558.5,102.3 556.9,101.9 555.4,100.4 553.4,99.5 551.7,99.6 550.2,99.0 548.7,98.4 546.9,98.9 545.2,99.5 544.6,101.6 544.0,103.6 542.5,104.4 540.8,104.8 539.5,106.0 538.3,104.9 537.4,103.6 535.8,103.1 534.9,101.9 533.9,100.7 534.4,99.6 533.9,98.4 535.9,97.6 537.4,96.1 536.6,94.4 536.2,92.6 535.0,90.8 533.9,89.0 534.3,87.5"/>
<polygon fill="#f4a47a" points="539.5,106.0 540.8,104.8 542.5,104.4 544.0,103.6 544.6,101.6 545.2,99.5 546.9,98.9 548.7,98.4 550.2,99.0 551.7,99.6 553.4,99.5 555.4,100.4 556.9,101.9 558.5,102.3 559.8,101.3 560.3,99.2 560.9,97.2 561.9,95.8 562.3,94.2 562.1,92.5 563.4,91.5 564.9,91.1 566.6,91.4 567.4,92.4 567.4,93.7 568.5,95.5 569.7,97.2 571.5,97.5 573.3,97.1 575.0,97.8 574.1,99.8 574.4,101.9 575.1,103.8 575.0,105.9 573.6,106.9 572.6,108.3 571.9,109.8 570.9,111.2 569.6,110.8 568.5,110.0 567.0,109.7 565.4,109.8 563.9,109.4 562.3,109.6 560.7,109.3 559.2,110.0 557.5,109.5 555.7,110.0 555.4,111.8 553.9,112.9 553.3,114.9 552.8,117.0 553.1,118.8 552.5,120.6 553.4,122.3 551.6,121.7 549.9,122.3 548.3,120.9 546.4,120.0 544.5,119.7 542.8,118.8 541.2,118.1 540.5,116.5 539.7,114.8 539.3,112.9 539.5,111.2 540.0,109.6 541.1,108.3 540.4,107.1"/>
<polygon fill="#f4a47a" points="575.0,97.8 576.9,96.6 579.0,96.0 580.9,95.4 582.6,94.3 583.9,95.2 585.1,96.0 586.1,97.2 587.2,98.2 588.1,99.5 589.0,100.7 589.4,102.3 590.3,103.8 590.7,105.4 590.2,106.9 589.7,108.4 589.6,110.0 587.8,111.1 586.1,112.4 584.5,112.9 582.9,113.4 581.4,114.1 579.8,114.8 578.3,115.7 576.7,116.5 575.3,117.7 573.6,118.5 572.0,119.4 570.4,120.2 569.0,121.4 567.4,122.3 566.2,123.5 564.6,123.8 563.1,122.7 561.5,122.9 560.0,123.2 558.5,123.5 556.9,123.5 555.3,122.4 553.4,122.3 552.5,120.6 553.1,118.8 552.8,117.0 553.3,114.9 553.9,112.9 555.4,111.8 555.7,110.0 557.5,109.5 559.2,110.0 560.7,109.3 562.3,109.6 563.9,109.4 565.4,109.8 567.0,109.7 568.5,110.0 569.6,110.8 570.9,111.2 571.9,109.8 572.6,108.3 573.6,106.9 575.0,105.9 575.1,103.8 574.4,101.9 574.1,99.8"/>
<polygon fill="#f4a47a" points="582.6,94.3 584.0,94.1 585.0,93.0 586.3,92.6 587.5,92.2 589.3,92.3 591.1,92.9 592.8,93.3 594.3,94.0 595.9,94.4 597.5,95.0 598.6,96.0 599.5,97.3 600.4,98.5 601.8,99.3 603.1,100.1 604.5,100.9 606.0,101.4 607.7,101.5 609.2,102.0 610.9,103.2 612.7,104.4 614.1,105.3 615.5,106.3 616.3,107.4 617.0,108.6 615.6,110.4 613.6,111.3 611.5,111.8 610.0,113.3 609.5,115.0 608.4,116.4 608.5,117.7 609.0,119.0 608.1,120.0 606.9,120.5 606.6,122.1 605.9,123.6 604.2,124.3 602.3,124.3 601.2,124.8 600.5,125.8 601.3,127.4 602.9,127.9 604.5,128.5 603.0,128.8 601.6,129.5 600.0,129.3 598.6,130.2 596.8,129.6 595.4,130.5 594.3,132.3 593.0,134.0 591.1,135.0 589.3,136.3 587.2,136.9 586.0,138.0 584.9,136.9 584.1,134.9 582.6,133.4 580.5,132.6 579.0,131.0 577.1,130.6 575.2,129.9 573.2,129.9 572.0,128.4 570.0,128.1 568.5,127.0 567.8,125.0 566.2,123.5 567.4,122.3 569.0,121.4 570.4,120.2 572.0,119.4 573.6,118.5 575.3,117.7 576.7,116.5 578.3,115.7 579.8,114.8 581.4,114.1 582.9,113.4 584.5,112.9 586.1,112.4 587.8,111.1 589.6,110.0 589.7,108.4 590.2,106.9 590.7,105.4 590.3,103.8 589.4,102.3 589.0,100.7 588.1,99.5 587.2,98.2 586.1,97.2 585.1,96.0 583.9,95.2"/>
<polygon fill="#f4a47a" points="617.0,108.6 618.3,110.3 619.7,112.0 621.2,113.3 622.7,114.5 624.4,115.5 626.1,116.5 627.4,118.0 629.1,119.0 630.7,120.1 632.3,121.2 633.7,122.5 634.9,123.5 636.0,124.5 637.2,125.4 638.2,127.0 639.3,128.5 639.5,129.9 640.2,131.2 639.3,133.0 638.0,134.6 636.5,134.9 635.0,135.2 633.6,135.7 631.4,135.8 629.2,135.7 627.7,135.7 626.3,136.2 624.8,136.4 623.0,137.1 621.2,137.9 619.3,138.6 617.5,139.3 615.9,139.7 614.3,140.2 613.2,138.7 611.7,137.5 610.6,136.1 608.8,135.7 607.2,134.8 605.5,134.2 604.3,133.2 604.0,131.7 604.2,130.1 604.5,128.5 602.9,127.9 601.3,127.4 600.5,125.8 601.2,124.8 602.3,124.3 604.2,124.3 605.9,123.6 606.6,122.1 606.9,120.5 608.1,120.0 609.0,119.0 608.5,117.7 608.4,116.4 609.5,115.0 610.0,113.3 611.5,111.8 613.6,111.3 615.6,110.4"/>
<polygon fill="#f4a47a" points="604.5,128.5 603.0,128.8 601.6,129.5 600.0,129.3 598.6,130.2 596.8,129.6 595.4,130.5 594.3,132.3 593.0,134.0 591.1,135.0 589.3,136.3 587.2,136.9 586.0,138.0 584.9,138.7 584.3,139.8 583.0,141.4 581.4,142.7 580.8,144.7 581.0,146.8 581.9,148.4 583.9,149.1 584.7,150.9 586.8,151.1 588.8,151.8 590.5,153.1 591.8,154.1 593.5,153.9 594.9,154.6 596.2,154.4 597.5,154.5 599.6,154.3 601.6,154.8 602.8,153.8 603.8,152.6 604.5,150.4 606.2,149.0 606.9,147.3 607.5,145.5 608.3,144.5 608.8,143.4 610.2,142.4 611.7,141.5 613.0,140.8 614.3,140.2 613.2,138.7 611.7,137.5 610.6,136.1 608.8,135.7 607.2,134.8 605.5,134.2 604.3,133.2 604.0,131.7 604.2,130.1"/>
<polygon fill="#f5f57c" points="553.4,122.3 555.3,122.4 556.9,123.5 558.5,123.5 560.0,123.2 561.5,122.9 563.1,122.7 564.6,123.8 566.2,123.5 567.8,125.0 568.5,127.0 570.0,128.1 572.0,128.4 573.2,129.9 575.2,129.9 577.1,130.6 579.0,131.0 580.5,132.6 582.6,133.4 584.1,134.9 584.9,136.9 586.0,138.0 584.9,138.7 584.3,139.8 583.0,141.4 581.4,142.7 580.8,144.7 581.0,146.8 579.6,145.3 577.8,145.3 576.0,145.6 574.5,146.6 572.4,146.5 570.7,147.9 568.6,148.0 566.8,147.2 565.0,147.6 563.2,147.0 561.3,147.3 560.0,146.5 559.1,145.3 557.6,145.8 556.6,146.9 555.5,148.0 553.5,148.3 551.7,149.4 549.6,149.5 548.1,149.6 546.7,150.0 545.3,150.6 545.5,148.9 544.5,147.3 544.4,145.6 544.5,143.9 545.6,142.4 547.1,141.3 548.7,140.4 550.1,139.6 550.9,138.3 551.6,136.9 553.0,135.1 554.1,133.3 554.5,131.0 554.5,129.0 554.5,127.0 554.5,125.4 553.3,124.0"/>
<polygon fill="#f5f57c" points="529.9,157.5 530.1,155.7 530.7,153.9 532.6,153.1 534.4,152.0 536.5,151.7 538.6,151.7 540.2,150.1 542.3,150.2 543.7,151.1 545.3,150.6 546.7,150.0 548.1,149.6 549.6,149.5 551.7,149.4 553.5,148.3 555.5,148.0 556.6,146.9 557.6,145.8 559.1,145.3 560.0,146.5 561.3,147.3 563.2,147.0 565.0,147.6 566.8,147.2 568.6,148.0 570.7,147.9 572.4,146.5 574.5,146.6 576.0,145.6 577.8,145.3 579.6,145.3 581.0,146.8 581.9,148.4 583.9,149.1 584.7,150.9 586.8,151.1 588.8,151.8 590.5,153.1 591.8,154.1 593.5,153.9 594.9,154.6 596.2,154.4 597.5,154.5 595.4,154.3 593.4,155.2 591.8,155.4 590.4,156.2 589.0,156.8 587.4,157.2 586.0,158.0 584.7,159.0 583.3,159.7 581.6,159.4 580.3,160.4 580.5,162.3 581.0,164.1 579.9,165.1 578.3,165.6 577.4,167.0 575.8,167.7 574.2,168.6 573.0,169.9 571.2,171.1 569.3,172.1 568.1,173.5 566.4,174.3 564.5,175.2 562.8,176.5 561.9,178.4 560.6,180.1 559.2,181.8 558.4,183.8 557.0,184.5 555.4,184.6 554.0,185.3 552.1,186.1 550.4,187.4 548.5,186.9 546.7,186.0 545.6,187.6 545.3,189.6 543.7,190.6 542.3,191.8 541.6,190.3 540.1,189.6 538.2,190.5 536.5,191.8 534.7,191.3 532.8,191.1 530.9,190.2 529.2,188.9 527.8,189.8 526.3,190.4 524.8,191.0 523.4,191.8 521.7,191.6 520.4,192.6 519.0,190.9 518.2,188.9 517.1,187.8 516.4,186.4 515.3,185.3 514.1,184.1 512.5,183.6 510.9,183.1 512.4,182.5 513.7,181.6 514.6,180.1 516.2,179.3 517.3,177.8 519.0,177.2 519.6,175.5 520.9,174.2 521.9,172.8 523.3,171.9 523.9,170.5 524.8,169.2 526.7,168.2 527.7,166.3 528.5,164.9 529.2,163.5 529.2,161.9 529.7,160.5 529.4,158.9"/>
<polygon fill="#f5f57c" points="597.5,154.5 599.6,154.3 601.6,154.8 602.8,156.0 602.6,157.9 603.8,159.2 604.3,161.1 605.2,162.9 606.7,164.3 605.9,165.9 606.3,167.7 606.0,169.4 606.7,171.0 607.6,172.6 608.9,173.8 608.9,175.8 609.1,177.7 609.6,179.6 610.5,181.1 611.1,182.7 611.0,184.5 610.5,186.2 611.4,187.8 611.0,189.5 609.4,189.4 607.8,189.3 606.4,188.2 605.0,189.2 603.1,188.3 601.7,189.3 599.7,189.7 598.0,191.0 596.2,192.0 594.9,191.1 593.6,189.7 591.6,189.0 590.5,187.4 589.3,186.2 587.5,186.0 586.1,185.3 584.1,185.4 582.9,187.1 581.0,187.4 580.7,185.8 579.6,184.5 577.8,183.9 576.2,183.0 574.5,182.3 573.4,180.6 571.4,180.1 570.1,178.7 569.1,177.1 567.3,176.1 566.4,174.3 568.1,173.5 569.3,172.1 571.2,171.1 573.0,169.9 574.2,168.6 575.8,167.7 577.4,167.0 578.3,165.6 579.9,165.1 581.0,164.1 580.5,162.3 580.3,160.4 581.6,159.4 583.3,159.7 584.7,159.0 586.0,158.0 587.4,157.2 589.0,156.8 590.4,156.2 591.8,155.4 593.4,155.2 595.4,154.3"/>
<polygon fill="#f4a47a" points="601.6,154.8 602.8,153.8 603.8,152.6 604.5,150.4 606.2,149.0 606.9,147.3 607.5,145.5 608.4,146.3 609.0,147.3 610.3,148.1 611.7,148.8 613.1,149.5 614.6,150.1 616.0,150.7 617.1,151.9 618.4,152.7 619.7,153.6 621.3,154.9 622.6,156.5 623.8,158.1 625.2,159.4 626.4,161.1 627.7,162.7 628.4,163.7 629.3,164.5 631.0,164.9 632.4,165.7 633.9,166.5 635.5,167.0 637.3,167.7 639.2,168.2 641.0,169.0 642.7,170.0 641.0,171.3 639.4,172.7 637.5,173.7 636.0,174.6 634.5,175.7 636.6,175.9 638.6,176.2 639.2,178.3 640.0,180.3 639.8,182.2 639.0,184.1 638.7,186.0 638.6,187.9 639.0,189.8 639.0,191.7 638.5,193.2 638.1,194.8 637.9,196.4 636.0,195.9 634.0,195.9 632.0,195.8 630.5,195.1 629.0,194.8 627.4,194.6 625.8,194.2 624.4,193.1 622.7,192.8 621.2,193.5 619.6,193.8 618.0,193.4 615.9,193.9 613.9,194.6 612.6,192.9 611.2,191.3 611.0,189.5 611.4,187.8 610.5,186.2 611.0,184.5 611.1,182.7 610.5,181.1 609.6,179.6 609.1,177.7 608.9,175.8 608.9,173.8 607.6,172.6 606.7,171.0 606.0,169.4 606.3,167.7 605.9,165.9 606.7,164.3 605.2,162.9 604.3,161.1 603.8,159.2 602.6,157.9 602.8,156.0"/>
<polygon fill="#f5f57c" points="542.3,191.8 543.7,190.6 545.3,189.6 545.6,187.6 546.7,186.0 548.5,186.9 550.4,187.4 552.1,186.1 554.0,185.3 555.4,184.6 557.0,184.5 558.4,183.8 559.2,181.8 560.6,180.1 561.9,178.4 562.8,176.5 564.5,175.2 566.4,174.3 567.3,176.1 569.1,177.1 570.1,178.7 571.4,180.1 573.4,180.6 574.5,182.3 576.2,183.0 577.8,183.9 579.6,184.5 580.7,185.8 581.0,187.4 582.9,187.1 584.1,185.4 586.1,185.3 587.5,186.0 589.3,186.2 590.5,187.4 591.6,189.0 593.6,189.7 594.9,191.1 596.2,192.0 596.1,194.2 595.7,196.3 594.9,198.4 594.2,199.8 593.9,201.3 593.4,202.8 591.5,203.5 589.6,204.3 587.6,205.0 585.9,204.7 584.4,205.1 583.0,206.0 582.5,205.7 581.8,204.3 580.6,203.3 579.6,202.2 578.5,203.3 577.4,204.5 575.9,205.0 574.4,205.4 573.1,206.5 571.5,206.4 570.0,207.1 568.8,208.2 567.2,208.6 565.6,209.4 563.9,210.0 562.8,211.5 561.1,212.8 559.9,214.5 558.0,214.9 556.4,215.9 554.7,216.6 553.7,215.4 552.3,214.7 551.1,213.7 550.4,212.1 550.3,210.2 549.6,208.6 548.8,206.8 547.5,205.4 546.0,204.2 546.0,202.1 545.2,200.3 544.5,198.4 545.0,196.6 544.5,194.7 543.5,193.2"/>
<polygon fill="#f5f57c" points="596.2,192.0 598.0,191.0 599.7,189.7 601.7,189.3 603.1,188.3 605.0,189.2 606.4,188.2 607.8,189.3 609.4,189.4 611.0,189.5 611.2,191.3 612.6,192.9 613.9,194.6 615.9,193.9 618.0,193.4 619.6,193.8 621.2,193.5 622.7,192.8 624.4,193.1 625.8,194.2 627.4,194.6 628.0,196.2 629.1,197.5 629.4,199.5 630.9,201.0 630.0,202.6 630.3,204.5 629.1,205.3 628.0,206.3 628.4,207.7 628.5,209.2 627.6,210.3 626.8,211.5 625.2,211.9 624.5,213.3 624.9,214.8 626.2,215.6 627.7,216.4 628.0,218.0 628.8,219.4 629.1,220.9 628.0,222.2 627.4,223.8 625.5,224.1 623.9,225.0 622.5,225.9 620.9,226.7 619.7,228.4 618.0,229.6 616.3,230.5 615.1,232.0 613.4,232.9 611.6,233.7 610.1,234.2 608.5,234.5 609.7,233.2 609.7,231.4 609.6,229.5 610.4,227.8 611.1,226.5 611.0,224.8 612.2,223.7 613.1,222.1 613.3,220.2 611.4,219.2 610.4,217.3 608.8,217.4 607.2,217.1 605.7,216.7 603.7,217.4 601.6,217.8 599.9,216.9 598.1,216.1 597.0,214.9 595.5,214.6 594.0,214.3 592.3,214.4 590.8,215.1 589.4,216.1 587.2,216.1 585.3,214.9 584.6,216.6 583.0,217.6 581.9,215.7 581.0,213.7 581.4,211.9 582.4,210.4 583.9,209.3 584.0,207.5 583.0,206.0 584.4,205.1 585.9,204.7 587.6,205.0 589.6,204.3 591.5,203.5 593.4,202.8 593.9,201.3 594.2,199.8 594.9,198.4 595.7,196.3 596.1,194.2"/>
<polygon fill="#f5f57c" points="583.0,217.6 584.6,216.6 585.3,214.9 587.2,216.1 589.4,216.1 590.8,215.1 592.3,214.4 594.0,214.3 595.5,214.6 597.0,214.9 598.1,216.1 599.9,216.9 601.6,217.8 603.7,217.4 605.7,216.7 607.2,217.1 608.8,217.4 610.4,217.3 611.4,219.2 613.3,220.2 613.1,222.1 612.2,223.7 611.0,224.8 611.1,226.5 610.4,227.8 609.6,229.5 609.7,231.4 609.7,233.2 608.5,234.5 607.0,235.3 605.5,236.0 603.8,237.3 603.0,239.3 602.0,241.4 600.0,242.5 598.1,243.6 597.0,245.5 595.4,246.7 594.3,248.5 593.3,249.8 592.3,251.1 592.3,252.8 593.5,254.0 592.2,255.6 591.7,257.6 590.1,258.7 589.4,260.5 588.6,262.2 588.8,264.0 588.0,265.5 586.5,266.3 585.3,265.5 584.1,264.6 583.1,263.0 583.0,261.1 581.4,259.7 580.0,258.1 578.9,257.0 577.1,257.3 575.9,256.4 573.9,256.4 571.9,257.0 570.7,258.0 569.3,258.5 567.8,258.7 565.8,259.4 563.7,259.9 562.2,258.5 560.2,258.1 559.5,256.2 558.4,254.6 558.0,252.6 556.7,251.1 556.3,249.4 556.1,247.6 556.9,245.6 558.4,244.1 559.7,242.5 561.4,241.2 561.4,239.3 562.5,237.7 564.7,237.7 566.6,236.5 568.3,236.0 569.8,236.4 571.3,237.1 572.9,236.8 574.2,235.7 575.9,235.9 577.8,236.9 580.0,236.5 581.7,235.8 582.4,234.2 583.0,232.8 583.9,231.6 584.1,230.1 584.4,228.0 583.5,226.0 582.5,224.3 581.8,222.5 582.6,221.0 582.5,219.2"/>
<polygon fill="#f5f57c" points="469.0,75.0 469.1,73.4 470.0,72.0 468.7,70.4 468.8,68.3 470.0,66.9 471.4,65.6 473.3,65.3 475.0,64.6 476.7,63.7 478.2,63.0 479.0,61.6 480.0,60.4 481.6,59.9 483.3,59.7 484.6,58.8 485.6,57.5 487.2,57.1 489.1,56.3 491.1,56.4 492.8,55.9 494.4,55.1 496.4,55.0 498.4,54.5 499.9,53.7 501.0,52.5 502.9,51.7 504.3,50.3 505.0,51.7 505.6,53.1 506.0,55.1 506.2,57.1 507.6,58.1 508.2,59.7 509.2,61.6 508.9,63.7 510.5,65.0 511.5,66.9 513.3,66.9 515.0,67.8 516.8,67.6 518.6,68.0 520.2,66.8 522.0,66.9 522.8,65.1 524.6,64.3 525.7,62.7 526.6,61.0 528.4,59.9 530.5,59.7 532.0,60.6 533.5,61.3 535.2,61.7 536.8,62.4 537.5,64.0 538.3,65.1 539.7,65.1 539.1,67.1 539.1,69.2 539.5,70.7 540.1,72.0 540.9,73.3 539.8,74.8 538.5,76.2 536.9,77.3 535.0,77.4 533.9,76.2 532.2,75.8 530.8,74.5 529.2,73.9 527.2,73.8 525.4,73.0 523.4,72.7 521.9,73.1 520.3,73.4 518.7,73.3 519.5,75.3 521.2,76.6 522.0,78.4 522.6,80.2 521.2,81.4 520.7,82.9 520.4,84.6 519.3,86.2 517.7,87.0 516.4,88.4 514.6,89.0 513.5,90.5 512.9,92.1 512.8,93.9 511.5,93.4 510.6,92.4 509.3,94.2 506.9,94.4 505.5,96.0 503.4,96.3 501.6,97.6 499.6,98.2 497.4,98.3 495.5,97.3 495.2,95.4 493.9,93.8 493.8,91.9 493.0,90.5 492.8,88.9 492.5,87.3 490.9,86.7 489.2,86.2 487.9,84.9 486.1,85.0 484.4,84.3 482.6,84.7 480.8,84.3 479.4,83.2 478.0,82.0 476.7,80.3 476.7,78.1 474.9,77.4 473.4,76.3 472.1,75.3 470.6,74.9"/>
<polygon fill="#f5f57c" points="469.0,75.0 470.6,74.9 472.1,75.3 473.4,76.3 474.9,77.4 476.7,78.1 476.7,80.3 478.0,82.0 479.4,83.2 480.8,84.3 482.6,84.7 484.4,84.3 486.1,85.0 487.9,84.9 489.2,86.2 490.9,86.7 492.5,87.3 492.8,88.9 493.0,90.5 493.8,91.9 493.9,93.8 495.2,95.4 495.5,97.3 495.5,99.3 495.4,101.4 495.3,103.4 495.0,105.1 495.3,106.9 494.5,108.5 495.8,110.0 496.0,112.0 494.0,111.9 492.1,112.0 490.1,112.1 488.4,113.4 486.5,114.3 485.5,115.9 485.0,117.8 483.5,119.1 482.8,120.9 482.7,122.9 481.5,124.7 481.4,126.7 481.7,127.8 481.4,128.9 479.5,129.2 477.7,129.9 475.7,129.7 473.7,129.7 471.9,130.4 469.8,130.6 468.1,129.3 466.2,129.0 466.4,127.2 465.4,125.6 465.5,123.9 464.8,122.1 463.8,120.5 464.9,119.4 465.3,117.8 466.5,116.1 468.2,114.9 470.1,113.8 471.1,111.9 470.4,110.2 468.7,109.8 467.1,110.6 465.5,110.6 463.8,110.5 461.8,110.2 459.8,109.8 457.9,109.3 455.8,109.7 455.8,108.1 454.6,106.9 454.3,105.4 453.0,103.7 452.1,101.7 452.3,100.2 452.7,98.8 452.8,97.3 454.3,95.9 456.5,95.7 458.0,94.4 459.3,92.9 460.8,91.5 460.9,90.0 462.2,89.3 462.3,87.3 463.0,85.4 463.5,83.4 464.6,81.8 465.0,80.0 464.9,78.1 466.4,77.3 467.2,75.5"/>
<polygon fill="#f5f57c" points="495.5,97.3 497.4,98.3 499.6,98.2 501.6,97.6 503.4,96.3 505.5,96.0 506.9,94.4 509.3,94.2 510.6,92.4 511.5,93.4 512.8,93.9 513.1,95.6 514.4,97.1 514.2,99.0 516.0,99.5 517.4,100.6 518.6,101.9 520.2,102.0 521.4,103.4 523.0,103.4 523.8,105.0 525.2,106.0 526.6,107.0 526.9,108.5 528.1,109.8 528.1,111.4 527.9,113.2 526.6,114.3 525.9,115.8 525.1,117.6 523.5,118.7 521.5,118.3 520.0,117.0 518.4,115.7 516.4,115.0 515.4,113.9 514.5,112.5 513.5,111.4 511.8,112.3 509.9,112.1 508.6,111.2 507.0,111.1 505.5,110.7 504.4,112.3 502.6,112.8 501.1,112.3 499.5,112.5 498.2,111.4 497.1,111.7 496.0,112.0 495.8,110.0 494.5,108.5 495.3,106.9 495.0,105.1 495.3,103.4 495.4,101.4 495.5,99.3"/>
<polygon fill="#f5f57c" points="496.0,112.0 497.1,111.7 498.2,111.4 499.5,112.5 501.1,112.3 502.6,112.8 504.4,112.3 505.5,110.7 507.0,111.1 508.6,111.2 509.9,112.1 511.8,112.3 513.5,111.4 514.5,112.5 515.4,113.9 516.4,115.0 518.4,115.7 520.0,117.0 521.5,118.3 523.5,118.7 523.1,120.5 523.0,122.3 522.5,124.1 521.3,125.5 520.0,126.7 519.6,128.4 518.6,129.5 517.2,130.4 516.6,131.9 515.5,133.0 514.2,134.0 513.0,135.1 511.4,135.6 509.9,136.2 509.0,137.5 507.7,138.4 506.0,139.5 504.0,139.9 502.9,140.7 501.5,141.0 501.9,139.2 501.7,137.2 502.6,135.5 503.6,134.2 503.2,132.5 504.0,131.1 503.0,129.9 501.8,128.9 500.1,127.7 498.2,126.7 496.4,126.6 495.5,124.7 493.8,124.5 492.3,124.7 490.8,124.9 489.4,125.3 488.5,126.8 487.6,128.2 486.5,129.6 484.8,129.3 483.0,129.5 481.4,128.9 481.7,127.8 481.4,126.7 481.5,124.7 482.7,122.9 482.8,120.9 483.5,119.1 485.0,117.8 485.5,115.9 486.5,114.3 488.4,113.4 490.1,112.1 492.1,112.0 494.0,111.9"/>
<polygon fill="#f5f57c" points="481.4,128.9 483.0,129.5 484.8,129.3 486.5,129.6 487.6,128.2 488.5,126.8 489.4,125.3 490.8,124.9 492.3,124.7 493.8,124.5 495.5,124.7 496.4,126.6 498.2,126.7 500.1,127.7 501.8,128.9 503.0,129.9 504.0,131.1 502.9,132.6 501.1,133.3 499.6,133.6 498.1,134.0 496.7,134.7 495.5,135.9 493.8,136.2 492.2,135.9 490.9,136.9 489.4,136.9 487.7,135.9 485.8,136.2 484.1,136.2 482.8,136.9 481.4,137.7 479.8,138.1 478.5,139.2 477.0,139.9 475.3,139.8 473.5,139.7 471.9,140.6 470.6,139.9 469.3,139.1 467.8,138.7 466.9,136.8 466.8,134.7 466.7,132.8 466.6,130.9 466.2,129.0 468.1,129.3 469.8,130.6 471.9,130.4 473.7,129.7 475.7,129.7 477.7,129.9 479.5,129.2"/>
<polygon fill="#f5f57c" points="463.8,120.5 464.8,122.1 465.5,123.9 465.4,125.6 466.4,127.2 466.2,129.0 466.6,130.9 466.7,132.8 466.8,134.7 466.9,136.8 467.8,138.7 469.5,139.8 470.6,141.4 471.1,143.2 471.3,145.0 469.4,145.6 468.4,147.2 466.6,147.1 465.0,147.7 463.6,148.8 461.8,148.7 460.0,149.3 458.9,150.9 459.0,152.4 459.3,153.8 459.6,155.3 459.0,157.0 457.8,158.3 456.7,159.6 456.0,161.7 454.5,163.3 452.6,163.2 450.9,162.6 449.5,163.6 447.7,164.1 446.5,165.5 445.1,167.1 443.2,167.6 441.4,168.4 439.6,169.0 437.9,169.6 436.3,170.6 435.2,169.1 433.2,168.9 431.9,167.7 430.8,166.1 430.3,164.4 429.7,162.6 429.5,160.6 429.0,158.7 429.0,156.7 428.2,155.4 426.6,154.7 426.1,153.1 425.2,151.8 423.7,150.9 423.1,149.4 423.4,147.7 423.6,146.0 423.9,144.3 422.6,142.6 420.9,141.4 419.8,140.0 418.8,138.5 419.9,137.2 421.3,136.2 422.4,134.8 423.8,133.3 425.7,132.7 427.5,131.9 427.8,129.9 429.0,128.2 430.7,127.9 431.8,126.5 433.4,126.1 435.2,125.2 437.3,125.9 439.2,125.3 441.0,124.2 442.9,123.8 445.0,123.9 446.1,125.0 447.2,126.1 448.7,125.1 450.6,125.7 452.1,124.7 453.8,124.6 455.8,124.0 457.9,123.6 459.6,122.4 461.1,122.1 462.5,121.4"/>
<polygon fill="#f5f57c" points="467.8,138.7 469.3,139.1 470.6,139.9 471.9,140.6 473.5,139.7 475.3,139.8 477.0,139.9 478.5,139.2 479.8,138.1 481.4,137.7 482.8,136.9 484.1,136.2 485.8,136.2 487.7,135.9 489.4,136.9 490.9,136.9 492.2,135.9 493.8,136.2 495.5,135.9 496.7,134.7 498.1,134.0 499.6,133.6 501.1,133.3 502.9,132.6 504.0,131.1 503.2,132.5 503.6,134.2 502.6,135.5 501.7,137.2 501.9,139.2 501.5,141.0 501.1,143.1 500.0,145.0 498.7,145.9 498.4,147.5 497.6,148.7 496.7,150.3 495.8,151.9 495.4,153.8 493.9,154.7 493.1,156.3 491.8,157.4 489.9,158.1 488.1,158.9 486.3,159.5 484.5,160.4 482.7,161.1 480.9,162.1 479.0,162.6 477.2,163.3 475.2,163.9 473.1,164.3 471.3,165.5 469.8,166.4 468.7,167.9 466.9,168.4 466.8,170.0 466.4,171.5 465.5,172.8 464.0,174.3 462.5,175.7 460.4,176.4 458.9,177.6 456.9,177.7 455.3,178.6 453.6,177.5 451.6,177.2 452.5,175.5 452.3,173.5 454.2,172.8 455.6,171.5 456.7,169.9 456.8,168.0 457.4,166.2 455.8,164.9 454.5,163.3 456.0,161.7 456.7,159.6 457.8,158.3 459.0,157.0 459.6,155.3 459.3,153.8 459.0,152.4 458.9,150.9 460.0,149.3 461.8,148.7 463.6,148.8 465.0,147.7 466.6,147.1 468.4,147.2 469.4,145.6 471.3,145.0 471.1,143.2 470.6,141.4 469.5,139.8"/>
<polygon fill="#f5f57c" points="523.5,118.7 525.5,118.9 527.4,119.4 529.2,120.4 531.1,120.0 533.1,120.0 535.0,120.4 536.9,119.4 538.7,118.2 539.4,117.2 540.5,116.5 541.2,118.1 542.8,118.8 544.5,119.7 546.4,120.0 548.3,120.9 549.9,122.3 551.6,121.7 553.4,122.3 553.3,124.0 554.5,125.4 554.5,127.0 554.5,129.0 554.5,131.0 554.1,133.3 553.0,135.1 551.6,136.9 550.9,138.3 550.1,139.6 548.7,140.4 547.1,141.3 545.6,142.4 544.5,143.9 544.4,145.6 544.5,147.3 545.5,148.9 545.3,150.6 543.7,151.1 542.3,150.2 540.2,150.1 538.6,151.7 536.5,151.7 534.4,152.0 532.6,153.1 530.7,153.9 530.1,155.7 529.9,157.5 528.6,158.4 527.7,159.7 526.5,160.9 524.5,160.5 523.4,161.9 521.9,162.8 520.3,163.5 519.0,164.8 517.8,163.8 516.9,162.4 515.3,161.9 514.3,160.5 513.1,159.2 511.7,158.2 510.5,157.0 509.1,155.9 508.0,154.6 508.2,152.6 507.3,150.9 505.9,149.4 504.4,148.0 502.7,147.3 501.1,146.6 500.0,145.0 501.1,143.1 501.5,141.0 502.9,140.7 504.0,139.9 506.0,139.5 507.7,138.4 509.0,137.5 509.9,136.2 511.4,135.6 513.0,135.1 514.2,134.0 515.5,133.0 516.6,131.9 517.2,130.4 518.6,129.5 519.6,128.4 520.0,126.7 521.3,125.5 522.5,124.1 523.0,122.3 523.1,120.5"/>
<polygon fill="#f5f57c" stroke-width="1.5" points="637.0,159.5 640.0,158.0 643.5,158.5 647.5,160.5 652.0,163.0 655.0,165.5 654.0,167.5 650.0,167.0 646.0,166.0 642.0,165.0 638.5,163.5 636.5,161.5"/>
<polygon fill="#f5f57c" stroke-width="1.5" points="643.5,152.8 647.5,152.3 649.0,154.5 647.0,156.5 643.8,156.2"/>
<polygon fill="#f5f57c" stroke-width="1.5" points="642.5,172.0 646.5,171.5 648.5,174.0 647.0,176.5 643.5,176.5"/>
<polygon fill="#f5f57c" stroke-width="1.5" points="650.0,147.5 653.5,147.2 654.0,150.0 650.5,150.3"/>
<polygon fill="#f5f57c" stroke-width="1.5" points="652.2,166.3 654.2,166.2 654.3,168.2 652.3,168.3"/>
<polygon fill="#f5f57c" stroke-width="1.5" points="634.3,162.2 636.0,162.2 636.0,164.7 634.3,164.7"/>
<polygon fill="#f4a47a" stroke-width="0.8" points="624.4,111.6 631.4,114.4 638.4,116.7 644.2,117.9 643.8,120.0 636.0,118.8 629.0,116.0 624.6,113.2"/>
<polygon fill="#f4a47a" stroke-width="0.8" points="634.9,120.3 640.7,121.0 640.0,123.1 636.0,122.2"/>
<polygon fill="#050505" stroke-width="0.8" points="621.2,110.4 624.5,111.7 627.0,113.5 626.3,114.4 623.0,113.0 621.0,111.6"/>
</g>
<path d="M638 134.6L639.8 139L640.9 141.2L643.8 143L645.6 143.8" fill="none" stroke="#050505" stroke-width="1.5"/>
<g fill="#050505">
<ellipse cx="656.2" cy="139.4" rx="1.54" ry="0.94"/>
<ellipse cx="656.6" cy="139.5" rx="0.95" ry="0.97"/>
<ellipse cx="657.4" cy="140.8" rx="0.88" ry="0.83"/>
<ellipse cx="653.6" cy="140.9" rx="1.35" ry="0.67"/>
<ellipse cx="659.9" cy="141.8" rx="1.32" ry="1.03"/>
<ellipse cx="654.1" cy="136.1" rx="1.22" ry="0.68"/>
<ellipse cx="654.3" cy="137.5" rx="0.82" ry="0.94"/>
<ellipse cx="656.1" cy="141.1" rx="1.22" ry="1.05"/>
<ellipse cx="656.5" cy="140.0" rx="1.17" ry="0.82"/>
<ellipse cx="670.0" cy="140.0" rx="1.47" ry="1.09"/>
<ellipse cx="663.8" cy="135.4" rx="1.03" ry="0.68"/>
<ellipse cx="667.9" cy="136.4" rx="1.48" ry="0.89"/>
<ellipse cx="669.6" cy="139.1" rx="0.80" ry="0.77"/>
<ellipse cx="669.2" cy="136.8" rx="1.58" ry="0.89"/>
<ellipse cx="661.7" cy="137.8" rx="1.42" ry="0.81"/>
<ellipse cx="661.8" cy="136.0" rx="1.57" ry="1.13"/>
<ellipse cx="662.1" cy="135.5" rx="0.88" ry="0.68"/>
<ellipse cx="668.2" cy="135.1" rx="1.25" ry="0.93"/>
<ellipse cx="650.7" cy="147.6" rx="0.80" ry="0.97"/>
<ellipse cx="650.0" cy="144.8" rx="0.87" ry="0.73"/>
<ellipse cx="657.7" cy="148.2" rx="0.94" ry="1.13"/>
<ellipse cx="650.9" cy="144.5" rx="1.38" ry="0.97"/>
<ellipse cx="649.9" cy="149.9" rx="0.87" ry="0.73"/>
<ellipse cx="656.0" cy="144.0" rx="0.94" ry="0.61"/>
<ellipse cx="649.8" cy="146.2" rx="0.89" ry="0.94"/>
<ellipse cx="652.3" cy="145.1" rx="1.47" ry="0.87"/>
<ellipse cx="654.2" cy="148.8" rx="0.85" ry="0.66"/>
<ellipse cx="657.2" cy="148.4" rx="0.90" ry="0.68"/>
<ellipse cx="655.7" cy="149.5" rx="0.86" ry="1.17"/>
<ellipse cx="656.9" cy="146.4" rx="1.04" ry="0.63"/>
<ellipse cx="646.0" cy="154.4" rx="1.60" ry="0.75"/>
<ellipse cx="648.8" cy="155.9" rx="1.60" ry="0.75"/>
<ellipse cx="651.5" cy="156.0" rx="1.60" ry="0.75"/>
<ellipse cx="654.2" cy="157.1" rx="1.60" ry="0.75"/>
<ellipse cx="657.0" cy="157.4" rx="1.60" ry="0.75"/>
<ellipse cx="659.8" cy="158.6" rx="1.60" ry="0.75"/>
<ellipse cx="662.5" cy="159.1" rx="1.60" ry="0.75"/>
<ellipse cx="665.2" cy="159.5" rx="1.60" ry="0.75"/>
<ellipse cx="668.0" cy="160.1" rx="1.60" ry="0.75"/>
<ellipse cx="672.8" cy="149.0" rx="0.90" ry="0.70"/>
<ellipse cx="671.0" cy="158.3" rx="0.70" ry="0.60"/>
<ellipse cx="673.7" cy="158.3" rx="0.60" ry="0.50"/>
<ellipse cx="625.5" cy="143.4" rx="1.30" ry="0.80"/>
<ellipse cx="630.0" cy="144.0" rx="0.90" ry="0.60"/>
<ellipse cx="615.7" cy="147.0" rx="1.00" ry="0.90"/>
<ellipse cx="625.5" cy="155.0" rx="1.30" ry="0.80"/>
<ellipse cx="630.0" cy="155.8" rx="0.90" ry="0.60"/>
<ellipse cx="641.6" cy="139.3" rx="0.80" ry="0.60"/>
<ellipse cx="647.5" cy="184.6" rx="1.60" ry="1.50"/>
<ellipse cx="642.3" cy="182.0" rx="0.70" ry="0.60"/>
<ellipse cx="636.5" cy="145.0" rx="0.60" ry="0.50"/>
<ellipse cx="641.0" cy="149.0" rx="0.70" ry="0.50"/>
<ellipse cx="639.0" cy="153.5" rx="0.80" ry="0.60"/>
<ellipse cx="636.0" cy="156.5" rx="0.70" ry="0.50"/>
<ellipse cx="651.3" cy="152.9" rx="0.91" ry="0.96"/>
<ellipse cx="654.5" cy="167.6" rx="0.95" ry="1.22"/>
<ellipse cx="638.9" cy="151.4" rx="0.94" ry="0.88"/>
<ellipse cx="635.5" cy="155.8" rx="1.03" ry="0.97"/>
<ellipse cx="637.2" cy="160.8" rx="1.50" ry="1.27"/>
<ellipse cx="649.8" cy="169.7" rx="1.23" ry="0.66"/>
<ellipse cx="634.8" cy="151.5" rx="1.52" ry="1.06"/>
<ellipse cx="657.1" cy="151.6" rx="1.27" ry="0.91"/>
<ellipse cx="651.5" cy="159.6" rx="1.60" ry="0.61"/>
<ellipse cx="647.1" cy="170.9" rx="1.51" ry="1.09"/>
<ellipse cx="650.9" cy="172.4" rx="1.52" ry="0.81"/>
<ellipse cx="650.4" cy="175.3" rx="1.48" ry="0.86"/>
<ellipse cx="653.0" cy="174.3" rx="1.22" ry="1.01"/>
<ellipse cx="643.2" cy="166.7" rx="1.25" ry="0.62"/>
<ellipse cx="649.3" cy="177.8" rx="1.49" ry="1.08"/>
<ellipse cx="643.3" cy="170.8" rx="1.22" ry="0.88"/>
<ellipse cx="654.1" cy="153.3" rx="1.38" ry="0.58"/>
<ellipse cx="648.4" cy="164.0" rx="0.91" ry="1.06"/>
<ellipse cx="645.9" cy="167.6" rx="1.53" ry="0.74"/>
<ellipse cx="634.3" cy="159.1" rx="1.31" ry="0.71"/>
<ellipse cx="638.1" cy="175.5" rx="1.29" ry="0.88"/>
<ellipse cx="655.4" cy="159.8" rx="1.30" ry="0.70"/>
<ellipse cx="644.3" cy="172.8" rx="1.52" ry="1.19"/>
<ellipse cx="643.2" cy="166.7" rx="0.98" ry="0.66"/>
<ellipse cx="645.9" cy="173.6" rx="1.46" ry="1.07"/>
<ellipse cx="656.8" cy="158.5" rx="0.85" ry="0.88"/>
<ellipse cx="640.6" cy="156.8" rx="1.07" ry="1.01"/>
<ellipse cx="645.9" cy="159.5" rx="1.46" ry="1.27"/>
<ellipse cx="644.9" cy="153.0" rx="0.73" ry="1.19"/>
<ellipse cx="635.0" cy="170.1" rx="1.21" ry="0.78"/>
<ellipse cx="653.0" cy="151.5" rx="0.82" ry="0.89"/>
<ellipse cx="634.6" cy="173.4" rx="0.91" ry="0.66"/>
<ellipse cx="635.1" cy="168.0" rx="1.10" ry="1.01"/>
<ellipse cx="649.7" cy="172.8" rx="1.56" ry="1.05"/>
<ellipse cx="638.8" cy="163.8" rx="0.86" ry="0.57"/>
<ellipse cx="645.3" cy="170.3" rx="0.86" ry="0.76"/>
<ellipse cx="642.3" cy="169.8" rx="1.17" ry="1.00"/>
<ellipse cx="652.1" cy="161.6" rx="1.41" ry="1.21"/>
<ellipse cx="636.1" cy="176.2" rx="1.35" ry="0.65"/>
<ellipse cx="644.9" cy="167.9" rx="1.52" ry="0.83"/>
<ellipse cx="647.7" cy="174.7" rx="1.42" ry="1.24"/>
<ellipse cx="645.1" cy="168.6" rx="0.88" ry="1.08"/>
<ellipse cx="653.6" cy="168.3" rx="1.35" ry="0.71"/>
<ellipse cx="655.6" cy="177.5" rx="1.58" ry="0.95"/>
<ellipse cx="653.0" cy="159.7" rx="1.52" ry="1.18"/>
<ellipse cx="642.4" cy="153.2" rx="1.10" ry="0.96"/>
<ellipse cx="652.3" cy="162.8" rx="0.82" ry="1.09"/>
<ellipse cx="641.0" cy="167.2" rx="0.92" ry="0.83"/>
<ellipse cx="652.6" cy="158.0" rx="0.90" ry="0.93"/>
<ellipse cx="651.6" cy="167.8" rx="1.28" ry="1.17"/>
<ellipse cx="647.9" cy="169.3" rx="0.86" ry="0.76"/>
<ellipse cx="648.4" cy="160.1" rx="1.31" ry="1.00"/>
<ellipse cx="648.4" cy="167.8" rx="1.19" ry="0.81"/>
<ellipse cx="646.1" cy="167.8" rx="1.43" ry="0.76"/>
<ellipse cx="653.6" cy="169.6" rx="1.17" ry="0.96"/>
<ellipse cx="643.2" cy="163.5" rx="1.15" ry="0.98"/>
<ellipse cx="640.4" cy="169.6" rx="1.16" ry="0.86"/>
<ellipse cx="652.8" cy="163.9" rx="1.14" ry="1.03"/>
<ellipse cx="641.1" cy="163.5" rx="1.09" ry="1.18"/>
<ellipse cx="654.8" cy="159.8" rx="1.13" ry="0.71"/>
<ellipse cx="639.8" cy="196.2" rx="1.52" ry="0.94"/>
<ellipse cx="639.3" cy="188.4" rx="1.29" ry="1.23"/>
<ellipse cx="638.4" cy="195.7" rx="0.82" ry="0.76"/>
<ellipse cx="638.9" cy="194.6" rx="1.06" ry="0.87"/>
<ellipse cx="640.7" cy="187.3" rx="1.38" ry="0.72"/>
<ellipse cx="640.2" cy="189.1" rx="0.96" ry="0.98"/>
<ellipse cx="639.9" cy="190.7" rx="1.13" ry="0.98"/>
<ellipse cx="638.6" cy="188.6" rx="1.31" ry="1.05"/>
<ellipse cx="640.3" cy="196.6" rx="1.29" ry="1.19"/>
<ellipse cx="638.9" cy="195.3" rx="1.45" ry="1.22"/>
<ellipse cx="639.3" cy="189.9" rx="1.54" ry="0.78"/>
<ellipse cx="642.5" cy="197.1" rx="0.91" ry="0.79"/>
<ellipse cx="641.2" cy="189.2" rx="0.88" ry="1.17"/>
<ellipse cx="639.8" cy="195.9" rx="0.90" ry="0.90"/>
<ellipse cx="641.0" cy="186.2" rx="0.96" ry="1.08"/>
<ellipse cx="642.1" cy="198.1" rx="0.89" ry="0.96"/>
<ellipse cx="641.4" cy="192.3" rx="1.35" ry="0.76"/>
<ellipse cx="638.1" cy="187.3" rx="0.83" ry="0.99"/>
<ellipse cx="640.2" cy="193.1" rx="0.92" ry="0.76"/>
<ellipse cx="638.8" cy="196.5" rx="1.59" ry="1.23"/>
<ellipse cx="638.2" cy="186.8" rx="1.56" ry="0.94"/>
<ellipse cx="641.4" cy="190.1" rx="1.17" ry="0.97"/>
<ellipse cx="639.8" cy="193.5" rx="0.81" ry="1.09"/>
<ellipse cx="641.8" cy="188.3" rx="1.16" ry="1.11"/>
<ellipse cx="639.7" cy="188.4" rx="0.93" ry="0.97"/>
<ellipse cx="637.9" cy="197.2" rx="1.44" ry="1.09"/>
<ellipse cx="648.5" cy="185.1" rx="1.14" ry="1.01"/>
<ellipse cx="647.3" cy="186.0" rx="1.38" ry="0.84"/>
<ellipse cx="648.7" cy="185.4" rx="1.37" ry="1.11"/>
<ellipse cx="648.4" cy="205.1" rx="1.25" ry="0.94"/>
<ellipse cx="649.2" cy="204.9" rx="1.06" ry="0.95"/>
<ellipse cx="631.5" cy="208.4" rx="1.22" ry="0.65"/>
<ellipse cx="633.3" cy="210.9" rx="1.36" ry="0.81"/>
<ellipse cx="637.1" cy="211.2" rx="1.10" ry="1.12"/>
<ellipse cx="634.7" cy="210.0" rx="1.15" ry="1.36"/>
<ellipse cx="635.2" cy="211.5" rx="1.49" ry="1.35"/>
<ellipse cx="631.1" cy="210.7" rx="1.46" ry="0.82"/>
<ellipse cx="633.6" cy="205.9" rx="0.98" ry="0.91"/>
<ellipse cx="631.6" cy="207.6" rx="1.62" ry="1.04"/>
<ellipse cx="634.3" cy="213.7" rx="1.31" ry="1.36"/>
<ellipse cx="635.1" cy="212.4" rx="0.87" ry="1.07"/>
<ellipse cx="635.9" cy="205.9" rx="1.64" ry="0.76"/>
<ellipse cx="634.1" cy="206.9" rx="1.25" ry="1.08"/>
<ellipse cx="631.4" cy="213.5" rx="1.18" ry="1.02"/>
<ellipse cx="634.9" cy="208.6" rx="1.06" ry="1.11"/>
<ellipse cx="634.6" cy="207.9" rx="1.44" ry="0.85"/>
<ellipse cx="631.1" cy="207.6" rx="0.84" ry="0.75"/>
<ellipse cx="635.9" cy="208.8" rx="1.61" ry="1.18"/>
<ellipse cx="631.3" cy="213.9" rx="1.65" ry="0.69"/>
<ellipse cx="636.9" cy="209.2" rx="1.23" ry="1.34"/>
<ellipse cx="632.6" cy="209.9" rx="1.64" ry="1.16"/>
<ellipse cx="636.4" cy="220.9" rx="1.47" ry="1.06"/>
<ellipse cx="635.3" cy="219.3" rx="1.22" ry="0.83"/>
<ellipse cx="635.2" cy="218.9" rx="0.99" ry="0.97"/>
<ellipse cx="637.0" cy="218.5" rx="1.08" ry="1.05"/>
<ellipse cx="636.3" cy="220.0" rx="1.27" ry="1.28"/>
<ellipse cx="637.9" cy="219.8" rx="1.07" ry="0.78"/>
<ellipse cx="631.3" cy="225.5" rx="1.01" ry="0.70"/>
<ellipse cx="630.0" cy="225.1" rx="0.98" ry="0.80"/>
<ellipse cx="630.8" cy="225.4" rx="0.79" ry="0.66"/>
<ellipse cx="631.5" cy="226.1" rx="1.14" ry="0.58"/>
<ellipse cx="618.8" cy="231.0" rx="1.00" ry="0.91"/>
<ellipse cx="619.1" cy="232.0" rx="0.75" ry="0.61"/>
<ellipse cx="622.2" cy="232.0" rx="1.14" ry="0.77"/>
<ellipse cx="621.1" cy="230.8" rx="0.94" ry="0.98"/>
<ellipse cx="623.0" cy="230.3" rx="0.78" ry="1.01"/>
<ellipse cx="621.9" cy="232.8" rx="0.85" ry="0.80"/>
<ellipse cx="619.9" cy="233.0" rx="0.96" ry="0.93"/>
<ellipse cx="613.3" cy="237.6" rx="1.24" ry="1.12"/>
<ellipse cx="612.9" cy="238.4" rx="1.10" ry="0.70"/>
<ellipse cx="612.5" cy="235.6" rx="0.87" ry="1.00"/>
<ellipse cx="609.8" cy="240.5" rx="1.04" ry="1.14"/>
<ellipse cx="607.0" cy="236.7" rx="1.33" ry="0.69"/>
<ellipse cx="608.6" cy="240.8" rx="1.36" ry="0.82"/>
<ellipse cx="607.5" cy="237.9" rx="1.38" ry="0.87"/>
<ellipse cx="607.3" cy="240.7" rx="1.26" ry="1.23"/>
<ellipse cx="613.0" cy="242.3" rx="1.15" ry="1.15"/>
<ellipse cx="608.6" cy="237.5" rx="1.12" ry="1.24"/>
<ellipse cx="612.7" cy="237.0" rx="1.09" ry="0.87"/>
<ellipse cx="609.0" cy="238.2" rx="1.11" ry="0.76"/>
<ellipse cx="610.4" cy="241.4" rx="1.23" ry="1.18"/>
<ellipse cx="610.4" cy="236.4" rx="1.41" ry="1.20"/>
<ellipse cx="608.4" cy="235.2" rx="1.21" ry="0.99"/>
<ellipse cx="610.4" cy="242.7" rx="1.32" ry="1.15"/>
<ellipse cx="606.9" cy="239.4" rx="1.43" ry="0.69"/>
<ellipse cx="607.1" cy="240.9" rx="1.52" ry="0.69"/>
<ellipse cx="610.9" cy="236.2" rx="1.40" ry="1.06"/>
<ellipse cx="608.2" cy="236.8" rx="1.41" ry="0.97"/>
<ellipse cx="611.8" cy="238.2" rx="1.07" ry="1.26"/>
<ellipse cx="611.1" cy="238.9" rx="1.23" ry="1.10"/>
<ellipse cx="611.4" cy="242.3" rx="1.13" ry="1.17"/>
<ellipse cx="611.1" cy="241.8" rx="1.44" ry="1.17"/>
<ellipse cx="612.6" cy="242.7" rx="1.31" ry="0.98"/>
<ellipse cx="611.4" cy="241.4" rx="1.14" ry="0.91"/>
<ellipse cx="600.9" cy="248.8" rx="1.19" ry="0.66"/>
<ellipse cx="601.2" cy="246.4" rx="0.85" ry="0.62"/>
<ellipse cx="611.6" cy="245.8" rx="0.79" ry="0.54"/>
<ellipse cx="607.4" cy="249.0" rx="0.71" ry="0.51"/>
<ellipse cx="605.0" cy="248.1" rx="1.15" ry="0.50"/>
<ellipse cx="600.4" cy="246.3" rx="0.73" ry="0.59"/>
<ellipse cx="608.3" cy="248.2" rx="0.73" ry="0.57"/>
<ellipse cx="602.7" cy="246.3" rx="1.05" ry="0.63"/>
<ellipse cx="606.1" cy="249.2" rx="0.89" ry="0.61"/>
<ellipse cx="610.5" cy="249.6" rx="0.81" ry="0.74"/>
<ellipse cx="611.4" cy="247.7" rx="0.73" ry="0.50"/>
<ellipse cx="611.3" cy="249.1" rx="0.83" ry="0.73"/>
<ellipse cx="605.7" cy="246.7" rx="1.19" ry="0.80"/>
<ellipse cx="602.1" cy="245.5" rx="0.88" ry="0.66"/>
<ellipse cx="594.6" cy="251.4" rx="0.68" ry="0.44"/>
<ellipse cx="592.3" cy="250.1" rx="0.58" ry="0.61"/>
<ellipse cx="593.6" cy="251.2" rx="0.80" ry="0.46"/>
<ellipse cx="607.5" cy="254.0" rx="1.50" ry="1.30"/>
<ellipse cx="598.7" cy="268.7" rx="0.80" ry="0.60"/>
<ellipse cx="616.0" cy="89.0" rx="0.80" ry="0.70"/>
<ellipse cx="648.6" cy="114.3" rx="0.70" ry="0.65"/>
<ellipse cx="625.0" cy="130.0" rx="0.50" ry="0.40"/>
<ellipse cx="460.7" cy="141.1" rx="1.50" ry="1.10"/>
<ellipse cx="472.8" cy="148.2" rx="1.50" ry="1.40"/>
<ellipse cx="519.2" cy="74.4" rx="1.00" ry="0.90"/>
<ellipse cx="604.2" cy="174.8" rx="0.90" ry="0.80"/>
</g>
<text class="ct" x="573.0" y="42.6" text-anchor="middle">Yancheng</text>
<text class="ct" x="497.6" y="76.7" text-anchor="middle">Chuzhou</text>
<text class="ct" x="552.8" y="69.9" text-anchor="middle">Yangzhou</text>
<text class="ct" x="603.5" y="89.3" text-anchor="middle">Nantong</text>
<text class="ct" x="549.4" y="89.8" text-anchor="middle">Zhenjiang</text>
<text class="ct" x="523.9" y="98.1" text-anchor="middle">Nanjing</text>
<text class="ct" x="474.5" y="104.6" text-anchor="middle">Hefei</text>
<text class="ct" x="510.1" y="108.9" text-anchor="middle">Maanshan</text>
<text class="ct" x="556.2" y="107.1" text-anchor="middle">Changzhou</text>
<text class="ct" x="561.9" y="118.7" text-anchor="middle">Wuxi</text>
<text class="ct" x="500.3" y="121.8" text-anchor="middle">Wuhu</text>
<text class="ct" x="585.6" y="127.0" text-anchor="middle">Suzhou</text>
<text class="ct" x="620.3" y="128.2" text-anchor="middle">Shanghai</text>
<text class="ct" x="482.6" y="136.6" text-anchor="middle">Tongling</text>
<text class="ct" x="528.5" y="142.0" text-anchor="middle">Xuancheng</text>
<text class="ct" x="568.1" y="140.9" text-anchor="middle">Huzhou</text>
<text class="ct" x="596.4" y="144.5" text-anchor="middle">Jiaxing</text>
<text class="ct" x="442.0" y="148.7" text-anchor="middle">Anqing</text>
<text class="ct" x="475.3" y="157.4" text-anchor="middle">Chizhou</text>
<text class="ct" x="550.2" y="170.2" text-anchor="middle">Hangzhou</text>
<text class="ct" x="585.2" y="176.5" text-anchor="middle">Shaoxing</text>
<text class="ct" x="621.8" y="177.0" text-anchor="middle">Ningbo</text>
<text class="ct" x="644.8" y="164.5" text-anchor="middle">Zhoushan</text>
<text class="ct" x="569.6" y="198.2" text-anchor="middle">Jinhua</text>
<text class="ct" x="607.2" y="210.6" text-anchor="middle">Taizhou</text>
<text class="ct" x="578.0" y="245.7" text-anchor="middle">Wenzhou</text>
<text class="ttl" x="420" y="18.9" text-anchor="middle">Industrial Collaborative</text>
<text class="ttl" x="420" y="32.0" text-anchor="middle">Agglomeration Average</text>
<rect x="364.5" y="195.3" width="22.3" height="11.8" fill="#f5f57c" stroke="#111" stroke-width="0.9"/>
<text class="ml" x="391.3" y="209.1">[0.000, 2.820)</text>
<rect x="364.5" y="219.4" width="22.3" height="11.8" fill="#f4a47a" stroke="#111" stroke-width="0.9"/>
<text class="ml" x="391.3" y="233.2">[2.820, 3.287)</text>
<g transform="translate(0.0,0.0)">
<path d="M367.1 263.1V269.1H475.9V263.1M394.3 265.4V269.1M421.4 265.4V269.1M448.4 265.4V269.1" fill="none" stroke="#111" stroke-width="1"/>
<text class="sb" x="367.1" y="259.3" text-anchor="middle">0</text>
<text class="sb" x="394.3" y="259.3" text-anchor="middle">85</text>
<text class="sb" x="421.4" y="259.3" text-anchor="middle">170</text>
<text class="sb" x="469.3" y="259.3">340 km</text>
</g>
<text class="n" x="676.3" y="10.7" text-anchor="middle">N</text>
<path d="M676.4 13.8L668.1 40.2L676.2 30.4Z" fill="#000" stroke="#000" stroke-width="0.6" stroke-linejoin="miter"/>
<path d="M676.4 13.8L683.8 40.2L676.2 30.4Z" fill="#fff" stroke="#000" stroke-width="1" stroke-linejoin="miter"/>
</g>
<g transform="translate(0,324.10)">
<g stroke="#0a0a0a" stroke-width="1.3" stroke-linejoin="round">
<polygon fill="#f5f57c" points="554.6,43.8 553.3,42.2 551.7,40.9 551.6,39.1 550.9,37.6 549.9,36.2 550.8,34.6 551.2,32.7 551.7,30.9 553.6,29.8 553.9,27.4 555.8,26.3 555.8,24.4 555.1,22.7 554.6,21.0 553.7,19.6 552.3,18.7 551.4,17.4 551.7,15.8 553.2,14.6 555.2,14.3 556.8,13.3 557.9,11.5 559.9,11.1 560.5,9.2 561.9,7.6 562.2,5.6 564.0,6.1 565.7,6.8 567.5,7.5 569.2,8.2 571.0,8.7 572.7,9.5 574.4,10.0 576.2,10.5 578.0,10.9 579.7,11.7 580.3,13.6 581.0,15.5 581.5,17.5 582.3,19.5 583.1,21.4 584.1,23.2 585.0,25.1 585.8,26.8 587.1,28.2 588.0,29.9 589.0,31.5 589.9,33.3 591.0,34.9 591.7,36.8 592.7,38.5 593.7,40.3 594.4,41.9 595.0,43.4 595.4,45.1 596.0,46.7 597.1,48.4 598.3,49.9 599.6,51.4 600.1,53.3 600.8,55.3 601.3,57.2 602.0,59.2 602.7,61.1 603.6,63.0 603.2,64.7 602.9,66.4 602.8,68.2 602.1,69.2 601.0,69.9 599.7,71.1 597.8,70.8 596.4,71.7 594.4,71.4 592.5,71.2 590.5,71.7 588.4,71.6 586.5,70.8 584.7,69.9 583.2,69.2 581.6,68.8 580.0,68.2 578.4,69.4 576.4,69.6 574.5,70.0 575.1,68.5 576.2,67.2 575.0,65.9 575.0,64.2 575.7,62.1 577.4,60.7 578.8,59.9 579.6,58.6 580.3,57.2 580.5,55.4 579.7,53.7 577.7,53.0 575.5,52.9 573.6,51.9 571.5,51.4 569.5,51.8 567.5,52.4 565.4,52.3 563.4,52.6 561.4,53.3 559.3,53.1 558.7,51.9 557.5,51.4 557.5,49.5 556.4,47.9 555.9,46.5 554.8,45.4"/>
<polygon fill="#6699cf" points="554.6,43.8 554.8,45.4 555.9,46.5 556.4,47.9 557.5,49.5 557.5,51.4 558.1,53.4 558.0,55.5 558.4,57.5 558.7,59.6 559.9,61.4 560.7,63.4 561.7,65.2 562.8,67.0 563.0,69.2 562.8,71.2 563.8,73.0 563.6,75.0 563.0,76.5 562.5,78.1 562.5,79.7 563.1,81.1 563.0,82.6 561.5,83.3 560.0,83.8 558.4,83.8 556.5,83.9 554.5,84.4 552.6,83.8 550.6,84.4 548.6,84.6 546.7,85.5 544.7,85.7 542.8,85.4 540.9,85.0 539.0,85.7 536.9,85.1 535.0,86.1 535.3,84.6 534.5,83.2 534.4,81.2 534.6,79.3 535.0,77.4 536.9,77.3 538.5,76.2 539.8,74.8 540.9,73.3 540.1,72.0 539.5,70.7 539.1,69.2 539.1,67.1 539.7,65.1 541.9,65.2 543.8,63.9 544.0,61.9 545.5,60.4 545.4,58.6 545.2,56.8 544.4,55.2 542.9,54.2 541.4,53.2 540.3,51.7 540.0,49.8 539.1,48.2 541.2,47.8 543.0,46.6 545.0,46.0 546.5,45.2 548.3,45.5 549.6,44.0 551.4,44.1 553.1,44.5"/>
<polygon fill="#f5f57c" points="557.5,51.4 558.7,51.9 559.3,53.1 561.4,53.3 563.4,52.6 565.4,52.3 567.5,52.4 569.5,51.8 571.5,51.4 573.6,51.9 575.5,52.9 577.7,53.0 579.7,53.7 580.5,55.4 580.3,57.2 579.6,58.6 578.8,59.9 577.4,60.7 575.7,62.1 575.0,64.2 575.0,65.9 576.2,67.2 575.1,68.5 574.5,70.0 575.6,71.2 576.7,72.4 577.0,74.0 578.7,74.8 579.4,76.5 580.0,78.4 580.1,80.4 581.4,82.0 581.8,83.5 581.2,85.2 582.0,86.7 583.4,88.0 584.3,89.8 586.0,90.8 587.5,92.2 586.3,92.6 585.0,93.0 584.0,94.1 582.6,94.3 580.9,95.4 579.0,96.0 576.9,96.6 575.0,97.8 573.3,97.1 571.5,97.5 569.7,97.2 568.5,95.5 567.4,93.7 567.4,92.4 566.6,91.4 566.6,89.7 566.4,88.1 565.4,86.7 564.6,85.3 564.1,83.8 563.0,82.6 563.1,81.1 562.5,79.7 562.5,78.1 563.0,76.5 563.6,75.0 563.8,73.0 562.8,71.2 563.0,69.2 562.8,67.0 561.7,65.2 560.7,63.4 559.9,61.4 558.7,59.6 558.4,57.5 558.0,55.5 558.1,53.4"/>
<polygon fill="#6699cf" points="574.5,70.0 576.4,69.6 578.4,69.4 580.0,68.2 581.6,68.8 583.2,69.2 584.7,69.9 586.5,70.8 588.4,71.6 590.5,71.7 592.5,71.2 594.4,71.4 596.4,71.7 597.8,70.8 599.7,71.1 601.0,69.9 602.1,69.2 602.8,68.2 603.8,69.7 605.1,71.1 606.8,72.0 608.7,72.5 610.4,73.4 612.4,74.1 614.2,75.2 616.2,75.8 617.9,76.7 619.7,77.5 619.8,79.1 620.2,80.6 620.3,82.2 620.8,84.3 621.5,86.3 622.9,87.5 624.4,88.6 626.4,89.2 628.2,90.3 630.2,90.9 631.5,92.1 632.8,93.4 634.3,94.5 635.0,96.1 635.8,97.6 636.6,99.1 637.1,100.9 637.6,102.7 638.4,104.4 638.6,105.8 638.4,107.3 636.6,107.1 634.9,106.7 633.3,106.4 631.7,106.0 630.2,105.5 628.2,105.1 626.3,104.4 624.4,103.8 622.9,103.0 621.3,102.1 619.7,101.5 618.2,100.6 616.5,100.0 615.0,99.1 613.2,99.3 611.5,99.7 610.4,100.9 609.2,102.0 607.7,101.5 606.0,101.4 604.5,100.9 603.1,100.1 601.8,99.3 600.4,98.5 599.5,97.3 598.6,96.0 597.5,95.0 595.9,94.4 594.3,94.0 592.8,93.3 591.1,92.9 589.3,92.3 587.5,92.2 586.0,90.8 584.3,89.8 583.4,88.0 582.0,86.7 581.2,85.2 581.8,83.5 581.4,82.0 580.1,80.4 580.0,78.4 579.4,76.5 578.7,74.8 577.0,74.0 576.7,72.4 575.6,71.2"/>
<polygon fill="#f4a47a" points="609.2,102.0 610.4,100.9 611.5,99.7 613.2,99.3 615.0,99.1 616.5,100.0 618.2,100.6 619.7,101.5 621.3,102.1 622.9,103.0 624.4,103.8 626.3,104.4 628.2,105.1 630.2,105.5 631.7,106.0 633.3,106.4 634.9,106.7 636.6,107.1 638.4,107.3 639.1,108.7 639.6,110.2 638.6,111.3 637.8,112.6 635.8,112.9 633.7,113.1 632.2,112.7 630.6,112.5 629.1,112.0 627.5,111.3 626.0,110.4 624.4,109.6 622.8,109.2 621.3,108.7 619.7,108.2 618.3,108.4 617.0,108.6 616.3,107.4 615.5,106.3 614.1,105.3 612.7,104.4 610.9,103.2"/>
<polygon fill="#f4a47a" points="512.8,93.9 512.9,92.1 513.5,90.5 514.6,89.0 516.4,88.4 517.7,87.0 519.3,86.2 520.4,84.6 520.7,82.9 521.2,81.4 522.6,80.2 522.0,78.4 521.2,76.6 519.5,75.3 518.7,73.3 520.3,73.4 521.9,73.1 523.4,72.7 525.4,73.0 527.2,73.8 529.2,73.9 530.8,74.5 532.2,75.8 533.9,76.2 535.0,77.4 534.6,79.3 534.4,81.2 534.5,83.2 535.3,84.6 535.0,86.1 534.3,87.5 533.9,89.0 535.0,90.8 536.2,92.6 536.6,94.4 537.4,96.1 535.9,97.6 533.9,98.4 534.4,99.6 533.9,100.7 534.9,101.9 535.8,103.1 537.4,103.6 538.3,104.9 539.5,106.0 540.4,107.1 541.1,108.3 540.0,109.6 539.5,111.2 539.3,112.9 539.7,114.8 540.5,116.5 539.4,117.2 538.7,118.2 536.9,119.4 535.0,120.4 533.1,120.0 531.1,120.0 529.2,120.4 527.4,119.4 525.5,118.9 523.5,118.7 525.1,117.6 525.9,115.8 526.6,114.3 527.9,113.2 528.1,111.4 528.1,109.8 526.9,108.5 526.6,107.0 525.2,106.0 523.8,105.0 523.0,103.4 521.4,103.4 520.2,102.0 518.6,101.9 517.4,100.6 516.0,99.5 514.2,99.0 514.4,97.1 513.1,95.6"/>
<polygon fill="#f4a47a" points="535.0,86.1 536.9,85.1 539.0,85.7 540.9,85.0 542.8,85.4 544.7,85.7 546.7,85.5 548.6,84.6 550.6,84.4 552.6,83.8 554.5,84.4 556.5,83.9 558.4,83.8 560.0,83.8 561.5,83.3 563.0,82.6 564.1,83.8 564.6,85.3 565.4,86.7 566.4,88.1 566.6,89.7 566.6,91.4 564.9,91.1 563.4,91.5 562.1,92.5 562.3,94.2 561.9,95.8 560.9,97.2 560.3,99.2 559.8,101.3 558.5,102.3 556.9,101.9 555.4,100.4 553.4,99.5 551.7,99.6 550.2,99.0 548.7,98.4 546.9,98.9 545.2,99.5 544.6,101.6 544.0,103.6 542.5,104.4 540.8,104.8 539.5,106.0 538.3,104.9 537.4,103.6 535.8,103.1 534.9,101.9 533.9,100.7 534.4,99.6 533.9,98.4 535.9,97.6 537.4,96.1 536.6,94.4 536.2,92.6 535.0,90.8 533.9,89.0 534.3,87.5"/>
<polygon fill="#f4a47a" points="539.5,106.0 540.8,104.8 542.5,104.4 544.0,103.6 544.6,101.6 545.2,99.5 546.9,98.9 548.7,98.4 550.2,99.0 551.7,99.6 553.4,99.5 555.4,100.4 556.9,101.9 558.5,102.3 559.8,101.3 560.3,99.2 560.9,97.2 561.9,95.8 562.3,94.2 562.1,92.5 563.4,91.5 564.9,91.1 566.6,91.4 567.4,92.4 567.4,93.7 568.5,95.5 569.7,97.2 571.5,97.5 573.3,97.1 575.0,97.8 574.1,99.8 574.4,101.9 575.1,103.8 575.0,105.9 573.6,106.9 572.6,108.3 571.9,109.8 570.9,111.2 569.6,110.8 568.5,110.0 567.0,109.7 565.4,109.8 563.9,109.4 562.3,109.6 560.7,109.3 559.2,110.0 557.5,109.5 555.7,110.0 555.4,111.8 553.9,112.9 553.3,114.9 552.8,117.0 553.1,118.8 552.5,120.6 553.4,122.3 551.6,121.7 549.9,122.3 548.3,120.9 546.4,120.0 544.5,119.7 542.8,118.8 541.2,118.1 540.5,116.5 539.7,114.8 539.3,112.9 539.5,111.2 540.0,109.6 541.1,108.3 540.4,107.1"/>
<polygon fill="#f4a47a" points="575.0,97.8 576.9,96.6 579.0,96.0 580.9,95.4 582.6,94.3 583.9,95.2 585.1,96.0 586.1,97.2 587.2,98.2 588.1,99.5 589.0,100.7 589.4,102.3 590.3,103.8 590.7,105.4 590.2,106.9 589.7,108.4 589.6,110.0 587.8,111.1 586.1,112.4 584.5,112.9 582.9,113.4 581.4,114.1 579.8,114.8 578.3,115.7 576.7,116.5 575.3,117.7 573.6,118.5 572.0,119.4 570.4,120.2 569.0,121.4 567.4,122.3 566.2,123.5 564.6,123.8 563.1,122.7 561.5,122.9 560.0,123.2 558.5,123.5 556.9,123.5 555.3,122.4 553.4,122.3 552.5,120.6 553.1,118.8 552.8,117.0 553.3,114.9 553.9,112.9 555.4,111.8 555.7,110.0 557.5,109.5 559.2,110.0 560.7,109.3 562.3,109.6 563.9,109.4 565.4,109.8 567.0,109.7 568.5,110.0 569.6,110.8 570.9,111.2 571.9,109.8 572.6,108.3 573.6,106.9 575.0,105.9 575.1,103.8 574.4,101.9 574.1,99.8"/>
<polygon fill="#f4a47a" points="582.6,94.3 584.0,94.1 585.0,93.0 586.3,92.6 587.5,92.2 589.3,92.3 591.1,92.9 592.8,93.3 594.3,94.0 595.9,94.4 597.5,95.0 598.6,96.0 599.5,97.3 600.4,98.5 601.8,99.3 603.1,100.1 604.5,100.9 606.0,101.4 607.7,101.5 609.2,102.0 610.9,103.2 612.7,104.4 614.1,105.3 615.5,106.3 616.3,107.4 617.0,108.6 615.6,110.4 613.6,111.3 611.5,111.8 610.0,113.3 609.5,115.0 608.4,116.4 608.5,117.7 609.0,119.0 608.1,120.0 606.9,120.5 606.6,122.1 605.9,123.6 604.2,124.3 602.3,124.3 601.2,124.8 600.5,125.8 601.3,127.4 602.9,127.9 604.5,128.5 603.0,128.8 601.6,129.5 600.0,129.3 598.6,130.2 596.8,129.6 595.4,130.5 594.3,132.3 593.0,134.0 591.1,135.0 589.3,136.3 587.2,136.9 586.0,138.0 584.9,136.9 584.1,134.9 582.6,133.4 580.5,132.6 579.0,131.0 577.1,130.6 575.2,129.9 573.2,129.9 572.0,128.4 570.0,128.1 568.5,127.0 567.8,125.0 566.2,123.5 567.4,122.3 569.0,121.4 570.4,120.2 572.0,119.4 573.6,118.5 575.3,117.7 576.7,116.5 578.3,115.7 579.8,114.8 581.4,114.1 582.9,113.4 584.5,112.9 586.1,112.4 587.8,111.1 589.6,110.0 589.7,108.4 590.2,106.9 590.7,105.4 590.3,103.8 589.4,102.3 589.0,100.7 588.1,99.5 587.2,98.2 586.1,97.2 585.1,96.0 583.9,95.2"/>
<polygon fill="#f4a47a" points="617.0,108.6 618.3,110.3 619.7,112.0 621.2,113.3 622.7,114.5 624.4,115.5 626.1,116.5 627.4,118.0 629.1,119.0 630.7,120.1 632.3,121.2 633.7,122.5 634.9,123.5 636.0,124.5 637.2,125.4 638.2,127.0 639.3,128.5 639.5,129.9 640.2,131.2 639.3,133.0 638.0,134.6 636.5,134.9 635.0,135.2 633.6,135.7 631.4,135.8 629.2,135.7 627.7,135.7 626.3,136.2 624.8,136.4 623.0,137.1 621.2,137.9 619.3,138.6 617.5,139.3 615.9,139.7 614.3,140.2 613.2,138.7 611.7,137.5 610.6,136.1 608.8,135.7 607.2,134.8 605.5,134.2 604.3,133.2 604.0,131.7 604.2,130.1 604.5,128.5 602.9,127.9 601.3,127.4 600.5,125.8 601.2,124.8 602.3,124.3 604.2,124.3 605.9,123.6 606.6,122.1 606.9,120.5 608.1,120.0 609.0,119.0 608.5,117.7 608.4,116.4 609.5,115.0 610.0,113.3 611.5,111.8 613.6,111.3 615.6,110.4"/>
<polygon fill="#f4a47a" points="604.5,128.5 603.0,128.8 601.6,129.5 600.0,129.3 598.6,130.2 596.8,129.6 595.4,130.5 594.3,132.3 593.0,134.0 591.1,135.0 589.3,136.3 587.2,136.9 586.0,138.0 584.9,138.7 584.3,139.8 583.0,141.4 581.4,142.7 580.8,144.7 581.0,146.8 581.9,148.4 583.9,149.1 584.7,150.9 586.8,151.1 588.8,151.8 590.5,153.1 591.8,154.1 593.5,153.9 594.9,154.6 596.2,154.4 597.5,154.5 599.6,154.3 601.6,154.8 602.8,153.8 603.8,152.6 604.5,150.4 606.2,149.0 606.9,147.3 607.5,145.5 608.3,144.5 608.8,143.4 610.2,142.4 611.7,141.5 613.0,140.8 614.3,140.2 613.2,138.7 611.7,137.5 610.6,136.1 608.8,135.7 607.2,134.8 605.5,134.2 604.3,133.2 604.0,131.7 604.2,130.1"/>
<polygon fill="#f5f57c" points="553.4,122.3 555.3,122.4 556.9,123.5 558.5,123.5 560.0,123.2 561.5,122.9 563.1,122.7 564.6,123.8 566.2,123.5 567.8,125.0 568.5,127.0 570.0,128.1 572.0,128.4 573.2,129.9 575.2,129.9 577.1,130.6 579.0,131.0 580.5,132.6 582.6,133.4 584.1,134.9 584.9,136.9 586.0,138.0 584.9,138.7 584.3,139.8 583.0,141.4 581.4,142.7 580.8,144.7 581.0,146.8 579.6,145.3 577.8,145.3 576.0,145.6 574.5,146.6 572.4,146.5 570.7,147.9 568.6,148.0 566.8,147.2 565.0,147.6 563.2,147.0 561.3,147.3 560.0,146.5 559.1,145.3 557.6,145.8 556.6,146.9 555.5,148.0 553.5,148.3 551.7,149.4 549.6,149.5 548.1,149.6 546.7,150.0 545.3,150.6 545.5,148.9 544.5,147.3 544.4,145.6 544.5,143.9 545.6,142.4 547.1,141.3 548.7,140.4 550.1,139.6 550.9,138.3 551.6,136.9 553.0,135.1 554.1,133.3 554.5,131.0 554.5,129.0 554.5,127.0 554.5,125.4 553.3,124.0"/>
<polygon fill="#f4a47a" points="529.9,157.5 530.1,155.7 530.7,153.9 532.6,153.1 534.4,152.0 536.5,151.7 538.6,151.7 540.2,150.1 542.3,150.2 543.7,151.1 545.3,150.6 546.7,150.0 548.1,149.6 549.6,149.5 551.7,149.4 553.5,148.3 555.5,148.0 556.6,146.9 557.6,145.8 559.1,145.3 560.0,146.5 561.3,147.3 563.2,147.0 565.0,147.6 566.8,147.2 568.6,148.0 570.7,147.9 572.4,146.5 574.5,146.6 576.0,145.6 577.8,145.3 579.6,145.3 581.0,146.8 581.9,148.4 583.9,149.1 584.7,150.9 586.8,151.1 588.8,151.8 590.5,153.1 591.8,154.1 593.5,153.9 594.9,154.6 596.2,154.4 597.5,154.5 595.4,154.3 593.4,155.2 591.8,155.4 590.4,156.2 589.0,156.8 587.4,157.2 586.0,158.0 584.7,159.0 583.3,159.7 581.6,159.4 580.3,160.4 580.5,162.3 581.0,164.1 579.9,165.1 578.3,165.6 577.4,167.0 575.8,167.7 574.2,168.6 573.0,169.9 571.2,171.1 569.3,172.1 568.1,173.5 566.4,174.3 564.5,175.2 562.8,176.5 561.9,178.4 560.6,180.1 559.2,181.8 558.4,183.8 557.0,184.5 555.4,184.6 554.0,185.3 552.1,186.1 550.4,187.4 548.5,186.9 546.7,186.0 545.6,187.6 545.3,189.6 543.7,190.6 542.3,191.8 541.6,190.3 540.1,189.6 538.2,190.5 536.5,191.8 534.7,191.3 532.8,191.1 530.9,190.2 529.2,188.9 527.8,189.8 526.3,190.4 524.8,191.0 523.4,191.8 521.7,191.6 520.4,192.6 519.0,190.9 518.2,188.9 517.1,187.8 516.4,186.4 515.3,185.3 514.1,184.1 512.5,183.6 510.9,183.1 512.4,182.5 513.7,181.6 514.6,180.1 516.2,179.3 517.3,177.8 519.0,177.2 519.6,175.5 520.9,174.2 521.9,172.8 523.3,171.9 523.9,170.5 524.8,169.2 526.7,168.2 527.7,166.3 528.5,164.9 529.2,163.5 529.2,161.9 529.7,160.5 529.4,158.9"/>
<polygon fill="#6699cf" points="597.5,154.5 599.6,154.3 601.6,154.8 602.8,156.0 602.6,157.9 603.8,159.2 604.3,161.1 605.2,162.9 606.7,164.3 605.9,165.9 606.3,167.7 606.0,169.4 606.7,171.0 607.6,172.6 608.9,173.8 608.9,175.8 609.1,177.7 609.6,179.6 610.5,181.1 611.1,182.7 611.0,184.5 610.5,186.2 611.4,187.8 611.0,189.5 609.4,189.4 607.8,189.3 606.4,188.2 605.0,189.2 603.1,188.3 601.7,189.3 599.7,189.7 598.0,191.0 596.2,192.0 594.9,191.1 593.6,189.7 591.6,189.0 590.5,187.4 589.3,186.2 587.5,186.0 586.1,185.3 584.1,185.4 582.9,187.1 581.0,187.4 580.7,185.8 579.6,184.5 577.8,183.9 576.2,183.0 574.5,182.3 573.4,180.6 571.4,180.1 570.1,178.7 569.1,177.1 567.3,176.1 566.4,174.3 568.1,173.5 569.3,172.1 571.2,171.1 573.0,169.9 574.2,168.6 575.8,167.7 577.4,167.0 578.3,165.6 579.9,165.1 581.0,164.1 580.5,162.3 580.3,160.4 581.6,159.4 583.3,159.7 584.7,159.0 586.0,158.0 587.4,157.2 589.0,156.8 590.4,156.2 591.8,155.4 593.4,155.2 595.4,154.3"/>
<polygon fill="#f4a47a" points="601.6,154.8 602.8,153.8 603.8,152.6 604.5,150.4 606.2,149.0 606.9,147.3 607.5,145.5 608.4,146.3 609.0,147.3 610.3,148.1 611.7,148.8 613.1,149.5 614.6,150.1 616.0,150.7 617.1,151.9 618.4,152.7 619.7,153.6 621.3,154.9 622.6,156.5 623.8,158.1 625.2,159.4 626.4,161.1 627.7,162.7 628.4,163.7 629.3,164.5 631.0,164.9 632.4,165.7 633.9,166.5 635.5,167.0 637.3,167.7 639.2,168.2 641.0,169.0 642.7,170.0 641.0,171.3 639.4,172.7 637.5,173.7 636.0,174.6 634.5,175.7 636.6,175.9 638.6,176.2 639.2,178.3 640.0,180.3 639.8,182.2 639.0,184.1 638.7,186.0 638.6,187.9 639.0,189.8 639.0,191.7 638.5,193.2 638.1,194.8 637.9,196.4 636.0,195.9 634.0,195.9 632.0,195.8 630.5,195.1 629.0,194.8 627.4,194.6 625.8,194.2 624.4,193.1 622.7,192.8 621.2,193.5 619.6,193.8 618.0,193.4 615.9,193.9 613.9,194.6 612.6,192.9 611.2,191.3 611.0,189.5 611.4,187.8 610.5,186.2 611.0,184.5 611.1,182.7 610.5,181.1 609.6,179.6 609.1,177.7 608.9,175.8 608.9,173.8 607.6,172.6 606.7,171.0 606.0,169.4 606.3,167.7 605.9,165.9 606.7,164.3 605.2,162.9 604.3,161.1 603.8,159.2 602.6,157.9 602.8,156.0"/>
<polygon fill="#6699cf" points="542.3,191.8 543.7,190.6 545.3,189.6 545.6,187.6 546.7,186.0 548.5,186.9 550.4,187.4 552.1,186.1 554.0,185.3 555.4,184.6 557.0,184.5 558.4,183.8 559.2,181.8 560.6,180.1 561.9,178.4 562.8,176.5 564.5,175.2 566.4,174.3 567.3,176.1 569.1,177.1 570.1,178.7 571.4,180.1 573.4,180.6 574.5,182.3 576.2,183.0 577.8,183.9 579.6,184.5 580.7,185.8 581.0,187.4 582.9,187.1 584.1,185.4 586.1,185.3 587.5,186.0 589.3,186.2 590.5,187.4 591.6,189.0 593.6,189.7 594.9,191.1 596.2,192.0 596.1,194.2 595.7,196.3 594.9,198.4 594.2,199.8 593.9,201.3 593.4,202.8 591.5,203.5 589.6,204.3 587.6,205.0 585.9,204.7 584.4,205.1 583.0,206.0 582.5,205.7 581.8,204.3 580.6,203.3 579.6,202.2 578.5,203.3 577.4,204.5 575.9,205.0 574.4,205.4 573.1,206.5 571.5,206.4 570.0,207.1 568.8,208.2 567.2,208.6 565.6,209.4 563.9,210.0 562.8,211.5 561.1,212.8 559.9,214.5 558.0,214.9 556.4,215.9 554.7,216.6 553.7,215.4 552.3,214.7 551.1,213.7 550.4,212.1 550.3,210.2 549.6,208.6 548.8,206.8 547.5,205.4 546.0,204.2 546.0,202.1 545.2,200.3 544.5,198.4 545.0,196.6 544.5,194.7 543.5,193.2"/>
<polygon fill="#f5f57c" points="596.2,192.0 598.0,191.0 599.7,189.7 601.7,189.3 603.1,188.3 605.0,189.2 606.4,188.2 607.8,189.3 609.4,189.4 611.0,189.5 611.2,191.3 612.6,192.9 613.9,194.6 615.9,193.9 618.0,193.4 619.6,193.8 621.2,193.5 622.7,192.8 624.4,193.1 625.8,194.2 627.4,194.6 628.0,196.2 629.1,197.5 629.4,199.5 630.9,201.0 630.0,202.6 630.3,204.5 629.1,205.3 628.0,206.3 628.4,207.7 628.5,209.2 627.6,210.3 626.8,211.5 625.2,211.9 624.5,213.3 624.9,214.8 626.2,215.6 627.7,216.4 628.0,218.0 628.8,219.4 629.1,220.9 628.0,222.2 627.4,223.8 625.5,224.1 623.9,225.0 622.5,225.9 620.9,226.7 619.7,228.4 618.0,229.6 616.3,230.5 615.1,232.0 613.4,232.9 611.6,233.7 610.1,234.2 608.5,234.5 609.7,233.2 609.7,231.4 609.6,229.5 610.4,227.8 611.1,226.5 611.0,224.8 612.2,223.7 613.1,222.1 613.3,220.2 611.4,219.2 610.4,217.3 608.8,217.4 607.2,217.1 605.7,216.7 603.7,217.4 601.6,217.8 599.9,216.9 598.1,216.1 597.0,214.9 595.5,214.6 594.0,214.3 592.3,214.4 590.8,215.1 589.4,216.1 587.2,216.1 585.3,214.9 584.6,216.6 583.0,217.6 581.9,215.7 581.0,213.7 581.4,211.9 582.4,210.4 583.9,209.3 584.0,207.5 583.0,206.0 584.4,205.1 585.9,204.7 587.6,205.0 589.6,204.3 591.5,203.5 593.4,202.8 593.9,201.3 594.2,199.8 594.9,198.4 595.7,196.3 596.1,194.2"/>
<polygon fill="#f4a47a" points="583.0,217.6 584.6,216.6 585.3,214.9 587.2,216.1 589.4,216.1 590.8,215.1 592.3,214.4 594.0,214.3 595.5,214.6 597.0,214.9 598.1,216.1 599.9,216.9 601.6,217.8 603.7,217.4 605.7,216.7 607.2,217.1 608.8,217.4 610.4,217.3 611.4,219.2 613.3,220.2 613.1,222.1 612.2,223.7 611.0,224.8 611.1,226.5 610.4,227.8 609.6,229.5 609.7,231.4 609.7,233.2 608.5,234.5 607.0,235.3 605.5,236.0 603.8,237.3 603.0,239.3 602.0,241.4 600.0,242.5 598.1,243.6 597.0,245.5 595.4,246.7 594.3,248.5 593.3,249.8 592.3,251.1 592.3,252.8 593.5,254.0 592.2,255.6 591.7,257.6 590.1,258.7 589.4,260.5 588.6,262.2 588.8,264.0 588.0,265.5 586.5,266.3 585.3,265.5 584.1,264.6 583.1,263.0 583.0,261.1 581.4,259.7 580.0,258.1 578.9,257.0 577.1,257.3 575.9,256.4 573.9,256.4 571.9,257.0 570.7,258.0 569.3,258.5 567.8,258.7 565.8,259.4 563.7,259.9 562.2,258.5 560.2,258.1 559.5,256.2 558.4,254.6 558.0,252.6 556.7,251.1 556.3,249.4 556.1,247.6 556.9,245.6 558.4,244.1 559.7,242.5 561.4,241.2 561.4,239.3 562.5,237.7 564.7,237.7 566.6,236.5 568.3,236.0 569.8,236.4 571.3,237.1 572.9,236.8 574.2,235.7 575.9,235.9 577.8,236.9 580.0,236.5 581.7,235.8 582.4,234.2 583.0,232.8 583.9,231.6 584.1,230.1 584.4,228.0 583.5,226.0 582.5,224.3 581.8,222.5 582.6,221.0 582.5,219.2"/>
<polygon fill="#f5f57c" points="469.0,75.0 469.1,73.4 470.0,72.0 468.7,70.4 468.8,68.3 470.0,66.9 471.4,65.6 473.3,65.3 475.0,64.6 476.7,63.7 478.2,63.0 479.0,61.6 480.0,60.4 481.6,59.9 483.3,59.7 484.6,58.8 485.6,57.5 487.2,57.1 489.1,56.3 491.1,56.4 492.8,55.9 494.4,55.1 496.4,55.0 498.4,54.5 499.9,53.7 501.0,52.5 502.9,51.7 504.3,50.3 505.0,51.7 505.6,53.1 506.0,55.1 506.2,57.1 507.6,58.1 508.2,59.7 509.2,61.6 508.9,63.7 510.5,65.0 511.5,66.9 513.3,66.9 515.0,67.8 516.8,67.6 518.6,68.0 520.2,66.8 522.0,66.9 522.8,65.1 524.6,64.3 525.7,62.7 526.6,61.0 528.4,59.9 530.5,59.7 532.0,60.6 533.5,61.3 535.2,61.7 536.8,62.4 537.5,64.0 538.3,65.1 539.7,65.1 539.1,67.1 539.1,69.2 539.5,70.7 540.1,72.0 540.9,73.3 539.8,74.8 538.5,76.2 536.9,77.3 535.0,77.4 533.9,76.2 532.2,75.8 530.8,74.5 529.2,73.9 527.2,73.8 525.4,73.0 523.4,72.7 521.9,73.1 520.3,73.4 518.7,73.3 519.5,75.3 521.2,76.6 522.0,78.4 522.6,80.2 521.2,81.4 520.7,82.9 520.4,84.6 519.3,86.2 517.7,87.0 516.4,88.4 514.6,89.0 513.5,90.5 512.9,92.1 512.8,93.9 511.5,93.4 510.6,92.4 509.3,94.2 506.9,94.4 505.5,96.0 503.4,96.3 501.6,97.6 499.6,98.2 497.4,98.3 495.5,97.3 495.2,95.4 493.9,93.8 493.8,91.9 493.0,90.5 492.8,88.9 492.5,87.3 490.9,86.7 489.2,86.2 487.9,84.9 486.1,85.0 484.4,84.3 482.6,84.7 480.8,84.3 479.4,83.2 478.0,82.0 476.7,80.3 476.7,78.1 474.9,77.4 473.4,76.3 472.1,75.3 470.6,74.9"/>
<polygon fill="#f5f57c" points="469.0,75.0 470.6,74.9 472.1,75.3 473.4,76.3 474.9,77.4 476.7,78.1 476.7,80.3 478.0,82.0 479.4,83.2 480.8,84.3 482.6,84.7 484.4,84.3 486.1,85.0 487.9,84.9 489.2,86.2 490.9,86.7 492.5,87.3 492.8,88.9 493.0,90.5 493.8,91.9 493.9,93.8 495.2,95.4 495.5,97.3 495.5,99.3 495.4,101.4 495.3,103.4 495.0,105.1 495.3,106.9 494.5,108.5 495.8,110.0 496.0,112.0 494.0,111.9 492.1,112.0 490.1,112.1 488.4,113.4 486.5,114.3 485.5,115.9 485.0,117.8 483.5,119.1 482.8,120.9 482.7,122.9 481.5,124.7 481.4,126.7 481.7,127.8 481.4,128.9 479.5,129.2 477.7,129.9 475.7,129.7 473.7,129.7 471.9,130.4 469.8,130.6 468.1,129.3 466.2,129.0 466.4,127.2 465.4,125.6 465.5,123.9 464.8,122.1 463.8,120.5 464.9,119.4 465.3,117.8 466.5,116.1 468.2,114.9 470.1,113.8 471.1,111.9 470.4,110.2 468.7,109.8 467.1,110.6 465.5,110.6 463.8,110.5 461.8,110.2 459.8,109.8 457.9,109.3 455.8,109.7 455.8,108.1 454.6,106.9 454.3,105.4 453.0,103.7 452.1,101.7 452.3,100.2 452.7,98.8 452.8,97.3 454.3,95.9 456.5,95.7 458.0,94.4 459.3,92.9 460.8,91.5 460.9,90.0 462.2,89.3 462.3,87.3 463.0,85.4 463.5,83.4 464.6,81.8 465.0,80.0 464.9,78.1 466.4,77.3 467.2,75.5"/>
<polygon fill="#f4a47a" points="495.5,97.3 497.4,98.3 499.6,98.2 501.6,97.6 503.4,96.3 505.5,96.0 506.9,94.4 509.3,94.2 510.6,92.4 511.5,93.4 512.8,93.9 513.1,95.6 514.4,97.1 514.2,99.0 516.0,99.5 517.4,100.6 518.6,101.9 520.2,102.0 521.4,103.4 523.0,103.4 523.8,105.0 525.2,106.0 526.6,107.0 526.9,108.5 528.1,109.8 528.1,111.4 527.9,113.2 526.6,114.3 525.9,115.8 525.1,117.6 523.5,118.7 521.5,118.3 520.0,117.0 518.4,115.7 516.4,115.0 515.4,113.9 514.5,112.5 513.5,111.4 511.8,112.3 509.9,112.1 508.6,111.2 507.0,111.1 505.5,110.7 504.4,112.3 502.6,112.8 501.1,112.3 499.5,112.5 498.2,111.4 497.1,111.7 496.0,112.0 495.8,110.0 494.5,108.5 495.3,106.9 495.0,105.1 495.3,103.4 495.4,101.4 495.5,99.3"/>
<polygon fill="#f4a47a" points="496.0,112.0 497.1,111.7 498.2,111.4 499.5,112.5 501.1,112.3 502.6,112.8 504.4,112.3 505.5,110.7 507.0,111.1 508.6,111.2 509.9,112.1 511.8,112.3 513.5,111.4 514.5,112.5 515.4,113.9 516.4,115.0 518.4,115.7 520.0,117.0 521.5,118.3 523.5,118.7 523.1,120.5 523.0,122.3 522.5,124.1 521.3,125.5 520.0,126.7 519.6,128.4 518.6,129.5 517.2,130.4 516.6,131.9 515.5,133.0 514.2,134.0 513.0,135.1 511.4,135.6 509.9,136.2 509.0,137.5 507.7,138.4 506.0,139.5 504.0,139.9 502.9,140.7 501.5,141.0 501.9,139.2 501.7,137.2 502.6,135.5 503.6,134.2 503.2,132.5 504.0,131.1 503.0,129.9 501.8,128.9 500.1,127.7 498.2,126.7 496.4,126.6 495.5,124.7 493.8,124.5 492.3,124.7 490.8,124.9 489.4,125.3 488.5,126.8 487.6,128.2 486.5,129.6 484.8,129.3 483.0,129.5 481.4,128.9 481.7,127.8 481.4,126.7 481.5,124.7 482.7,122.9 482.8,120.9 483.5,119.1 485.0,117.8 485.5,115.9 486.5,114.3 488.4,113.4 490.1,112.1 492.1,112.0 494.0,111.9"/>
<polygon fill="#f5f57c" points="481.4,128.9 483.0,129.5 484.8,129.3 486.5,129.6 487.6,128.2 488.5,126.8 489.4,125.3 490.8,124.9 492.3,124.7 493.8,124.5 495.5,124.7 496.4,126.6 498.2,126.7 500.1,127.7 501.8,128.9 503.0,129.9 504.0,131.1 502.9,132.6 501.1,133.3 499.6,133.6 498.1,134.0 496.7,134.7 495.5,135.9 493.8,136.2 492.2,135.9 490.9,136.9 489.4,136.9 487.7,135.9 485.8,136.2 484.1,136.2 482.8,136.9 481.4,137.7 479.8,138.1 478.5,139.2 477.0,139.9 475.3,139.8 473.5,139.7 471.9,140.6 470.6,139.9 469.3,139.1 467.8,138.7 466.9,136.8 466.8,134.7 466.7,132.8 466.6,130.9 466.2,129.0 468.1,129.3 469.8,130.6 471.9,130.4 473.7,129.7 475.7,129.7 477.7,129.9 479.5,129.2"/>
<polygon fill="#6699cf" points="463.8,120.5 464.8,122.1 465.5,123.9 465.4,125.6 466.4,127.2 466.2,129.0 466.6,130.9 466.7,132.8 466.8,134.7 466.9,136.8 467.8,138.7 469.5,139.8 470.6,141.4 471.1,143.2 471.3,145.0 469.4,145.6 468.4,147.2 466.6,147.1 465.0,147.7 463.6,148.8 461.8,148.7 460.0,149.3 458.9,150.9 459.0,152.4 459.3,153.8 459.6,155.3 459.0,157.0 457.8,158.3 456.7,159.6 456.0,161.7 454.5,163.3 452.6,163.2 450.9,162.6 449.5,163.6 447.7,164.1 446.5,165.5 445.1,167.1 443.2,167.6 441.4,168.4 439.6,169.0 437.9,169.6 436.3,170.6 435.2,169.1 433.2,168.9 431.9,167.7 430.8,166.1 430.3,164.4 429.7,162.6 429.5,160.6 429.0,158.7 429.0,156.7 428.2,155.4 426.6,154.7 426.1,153.1 425.2,151.8 423.7,150.9 423.1,149.4 423.4,147.7 423.6,146.0 423.9,144.3 422.6,142.6 420.9,141.4 419.8,140.0 418.8,138.5 419.9,137.2 421.3,136.2 422.4,134.8 423.8,133.3 425.7,132.7 427.5,131.9 427.8,129.9 429.0,128.2 430.7,127.9 431.8,126.5 433.4,126.1 435.2,125.2 437.3,125.9 439.2,125.3 441.0,124.2 442.9,123.8 445.0,123.9 446.1,125.0 447.2,126.1 448.7,125.1 450.6,125.7 452.1,124.7 453.8,124.6 455.8,124.0 457.9,123.6 459.6,122.4 461.1,122.1 462.5,121.4"/>
<polygon fill="#6699cf" points="467.8,138.7 469.3,139.1 470.6,139.9 471.9,140.6 473.5,139.7 475.3,139.8 477.0,139.9 478.5,139.2 479.8,138.1 481.4,137.7 482.8,136.9 484.1,136.2 485.8,136.2 487.7,135.9 489.4,136.9 490.9,136.9 492.2,135.9 493.8,136.2 495.5,135.9 496.7,134.7 498.1,134.0 499.6,133.6 501.1,133.3 502.9,132.6 504.0,131.1 503.2,132.5 503.6,134.2 502.6,135.5 501.7,137.2 501.9,139.2 501.5,141.0 501.1,143.1 500.0,145.0 498.7,145.9 498.4,147.5 497.6,148.7 496.7,150.3 495.8,151.9 495.4,153.8 493.9,154.7 493.1,156.3 491.8,157.4 489.9,158.1 488.1,158.9 486.3,159.5 484.5,160.4 482.7,161.1 480.9,162.1 479.0,162.6 477.2,163.3 475.2,163.9 473.1,164.3 471.3,165.5 469.8,166.4 468.7,167.9 466.9,168.4 466.8,170.0 466.4,171.5 465.5,172.8 464.0,174.3 462.5,175.7 460.4,176.4 458.9,177.6 456.9,177.7 455.3,178.6 453.6,177.5 451.6,177.2 452.5,175.5 452.3,173.5 454.2,172.8 455.6,171.5 456.7,169.9 456.8,168.0 457.4,166.2 455.8,164.9 454.5,163.3 456.0,161.7 456.7,159.6 457.8,158.3 459.0,157.0 459.6,155.3 459.3,153.8 459.0,152.4 458.9,150.9 460.0,149.3 461.8,148.7 463.6,148.8 465.0,147.7 466.6,147.1 468.4,147.2 469.4,145.6 471.3,145.0 471.1,143.2 470.6,141.4 469.5,139.8"/>
<polygon fill="#f5f57c" points="523.5,118.7 525.5,118.9 527.4,119.4 529.2,120.4 531.1,120.0 533.1,120.0 535.0,120.4 536.9,119.4 538.7,118.2 539.4,117.2 540.5,116.5 541.2,118.1 542.8,118.8 544.5,119.7 546.4,120.0 548.3,120.9 549.9,122.3 551.6,121.7 553.4,122.3 553.3,124.0 554.5,125.4 554.5,127.0 554.5,129.0 554.5,131.0 554.1,133.3 553.0,135.1 551.6,136.9 550.9,138.3 550.1,139.6 548.7,140.4 547.1,141.3 545.6,142.4 544.5,143.9 544.4,145.6 544.5,147.3 545.5,148.9 545.3,150.6 543.7,151.1 542.3,150.2 540.2,150.1 538.6,151.7 536.5,151.7 534.4,152.0 532.6,153.1 530.7,153.9 530.1,155.7 529.9,157.5 528.6,158.4 527.7,159.7 526.5,160.9 524.5,160.5 523.4,161.9 521.9,162.8 520.3,163.5 519.0,164.8 517.8,163.8 516.9,162.4 515.3,161.9 514.3,160.5 513.1,159.2 511.7,158.2 510.5,157.0 509.1,155.9 508.0,154.6 508.2,152.6 507.3,150.9 505.9,149.4 504.4,148.0 502.7,147.3 501.1,146.6 500.0,145.0 501.1,143.1 501.5,141.0 502.9,140.7 504.0,139.9 506.0,139.5 507.7,138.4 509.0,137.5 509.9,136.2 511.4,135.6 513.0,135.1 514.2,134.0 515.5,133.0 516.6,131.9 517.2,130.4 518.6,129.5 519.6,128.4 520.0,126.7 521.3,125.5 522.5,124.1 523.0,122.3 523.1,120.5"/>
<polygon fill="#f5f57c" stroke-width="1.5" points="637.0,159.5 640.0,158.0 643.5,158.5 647.5,160.5 652.0,163.0 655.0,165.5 654.0,167.5 650.0,167.0 646.0,166.0 642.0,165.0 638.5,163.5 636.5,161.5"/>
<polygon fill="#f5f57c" stroke-width="1.5" points="643.5,152.8 647.5,152.3 649.0,154.5 647.0,156.5 643.8,156.2"/>
<polygon fill="#f5f57c" stroke-width="1.5" points="642.5,172.0 646.5,171.5 648.5,174.0 647.0,176.5 643.5,176.5"/>
<polygon fill="#f5f57c" stroke-width="1.5" points="650.0,147.5 653.5,147.2 654.0,150.0 650.5,150.3"/>
<polygon fill="#f5f57c" stroke-width="1.5" points="652.2,166.3 654.2,166.2 654.3,168.2 652.3,168.3"/>
<polygon fill="#f5f57c" stroke-width="1.5" points="634.3,162.2 636.0,162.2 636.0,164.7 634.3,164.7"/>
<polygon fill="#f4a47a" stroke-width="0.8" points="624.4,111.6 631.4,114.4 638.4,116.7 644.2,117.9 643.8,120.0 636.0,118.8 629.0,116.0 624.6,113.2"/>
<polygon fill="#f4a47a" stroke-width="0.8" points="634.9,120.3 640.7,121.0 640.0,123.1 636.0,122.2"/>
<polygon fill="#050505" stroke-width="0.8" points="621.2,110.4 624.5,111.7 627.0,113.5 626.3,114.4 623.0,113.0 621.0,111.6"/>
</g>
<path d="M638 134.6L639.8 139L640.9 141.2L643.8 143L645.6 143.8" fill="none" stroke="#050505" stroke-width="1.5"/>
<g fill="#050505">
<ellipse cx="656.2" cy="139.4" rx="1.54" ry="0.94"/>
<ellipse cx="656.6" cy="139.5" rx="0.95" ry="0.97"/>
<ellipse cx="657.4" cy="140.8" rx="0.88" ry="0.83"/>
<ellipse cx="653.6" cy="140.9" rx="1.35" ry="0.67"/>
<ellipse cx="659.9" cy="141.8" rx="1.32" ry="1.03"/>
<ellipse cx="654.1" cy="136.1" rx="1.22" ry="0.68"/>
<ellipse cx="654.3" cy="137.5" rx="0.82" ry="0.94"/>
<ellipse cx="656.1" cy="141.1" rx="1.22" ry="1.05"/>
<ellipse cx="656.5" cy="140.0" rx="1.17" ry="0.82"/>
<ellipse cx="670.0" cy="140.0" rx="1.47" ry="1.09"/>
<ellipse cx="663.8" cy="135.4" rx="1.03" ry="0.68"/>
<ellipse cx="667.9" cy="136.4" rx="1.48" ry="0.89"/>
<ellipse cx="669.6" cy="139.1" rx="0.80" ry="0.77"/>
<ellipse cx="669.2" cy="136.8" rx="1.58" ry="0.89"/>
<ellipse cx="661.7" cy="137.8" rx="1.42" ry="0.81"/>
<ellipse cx="661.8" cy="136.0" rx="1.57" ry="1.13"/>
<ellipse cx="662.1" cy="135.5" rx="0.88" ry="0.68"/>
<ellipse cx="668.2" cy="135.1" rx="1.25" ry="0.93"/>
<ellipse cx="650.7" cy="147.6" rx="0.80" ry="0.97"/>
<ellipse cx="650.0" cy="144.8" rx="0.87" ry="0.73"/>
<ellipse cx="657.7" cy="148.2" rx="0.94" ry="1.13"/>
<ellipse cx="650.9" cy="144.5" rx="1.38" ry="0.97"/>
<ellipse cx="649.9" cy="149.9" rx="0.87" ry="0.73"/>
<ellipse cx="656.0" cy="144.0" rx="0.94" ry="0.61"/>
<ellipse cx="649.8" cy="146.2" rx="0.89" ry="0.94"/>
<ellipse cx="652.3" cy="145.1" rx="1.47" ry="0.87"/>
<ellipse cx="654.2" cy="148.8" rx="0.85" ry="0.66"/>
<ellipse cx="657.2" cy="148.4" rx="0.90" ry="0.68"/>
<ellipse cx="655.7" cy="149.5" rx="0.86" ry="1.17"/>
<ellipse cx="656.9" cy="146.4" rx="1.04" ry="0.63"/>
<ellipse cx="646.0" cy="154.4" rx="1.60" ry="0.75"/>
<ellipse cx="648.8" cy="155.9" rx="1.60" ry="0.75"/>
<ellipse cx="651.5" cy="156.0" rx="1.60" ry="0.75"/>
<ellipse cx="654.2" cy="157.1" rx="1.60" ry="0.75"/>
<ellipse cx="657.0" cy="157.4" rx="1.60" ry="0.75"/>
<ellipse cx="659.8" cy="158.6" rx="1.60" ry="0.75"/>
<ellipse cx="662.5" cy="159.1" rx="1.60" ry="0.75"/>
<ellipse cx="665.2" cy="159.5" rx="1.60" ry="0.75"/>
<ellipse cx="668.0" cy="160.1" rx="1.60" ry="0.75"/>
<ellipse cx="672.8" cy="149.0" rx="0.90" ry="0.70"/>
<ellipse cx="671.0" cy="158.3" rx="0.70" ry="0.60"/>
<ellipse cx="673.7" cy="158.3" rx="0.60" ry="0.50"/>
<ellipse cx="625.5" cy="143.4" rx="1.30" ry="0.80"/>
<ellipse cx="630.0" cy="144.0" rx="0.90" ry="0.60"/>
<ellipse cx="615.7" cy="147.0" rx="1.00" ry="0.90"/>
<ellipse cx="625.5" cy="155.0" rx="1.30" ry="0.80"/>
<ellipse cx="630.0" cy="155.8" rx="0.90" ry="0.60"/>
<ellipse cx="641.6" cy="139.3" rx="0.80" ry="0.60"/>
<ellipse cx="647.5" cy="184.6" rx="1.60" ry="1.50"/>
<ellipse cx="642.3" cy="182.0" rx="0.70" ry="0.60"/>
<ellipse cx="636.5" cy="145.0" rx="0.60" ry="0.50"/>
<ellipse cx="641.0" cy="149.0" rx="0.70" ry="0.50"/>
<ellipse cx="639.0" cy="153.5" rx="0.80" ry="0.60"/>
<ellipse cx="636.0" cy="156.5" rx="0.70" ry="0.50"/>
<ellipse cx="651.3" cy="152.9" rx="0.91" ry="0.96"/>
<ellipse cx="654.5" cy="167.6" rx="0.95" ry="1.22"/>
<ellipse cx="638.9" cy="151.4" rx="0.94" ry="0.88"/>
<ellipse cx="635.5" cy="155.8" rx="1.03" ry="0.97"/>
<ellipse cx="637.2" cy="160.8" rx="1.50" ry="1.27"/>
<ellipse cx="649.8" cy="169.7" rx="1.23" ry="0.66"/>
<ellipse cx="634.8" cy="151.5" rx="1.52" ry="1.06"/>
<ellipse cx="657.1" cy="151.6" rx="1.27" ry="0.91"/>
<ellipse cx="651.5" cy="159.6" rx="1.60" ry="0.61"/>
<ellipse cx="647.1" cy="170.9" rx="1.51" ry="1.09"/>
<ellipse cx="650.9" cy="172.4" rx="1.52" ry="0.81"/>
<ellipse cx="650.4" cy="175.3" rx="1.48" ry="0.86"/>
<ellipse cx="653.0" cy="174.3" rx="1.22" ry="1.01"/>
<ellipse cx="643.2" cy="166.7" rx="1.25" ry="0.62"/>
<ellipse cx="649.3" cy="177.8" rx="1.49" ry="1.08"/>
<ellipse cx="643.3" cy="170.8" rx="1.22" ry="0.88"/>
<ellipse cx="654.1" cy="153.3" rx="1.38" ry="0.58"/>
<ellipse cx="648.4" cy="164.0" rx="0.91" ry="1.06"/>
<ellipse cx="645.9" cy="167.6" rx="1.53" ry="0.74"/>
<ellipse cx="634.3" cy="159.1" rx="1.31" ry="0.71"/>
<ellipse cx="638.1" cy="175.5" rx="1.29" ry="0.88"/>
<ellipse cx="655.4" cy="159.8" rx="1.30" ry="0.70"/>
<ellipse cx="644.3" cy="172.8" rx="1.52" ry="1.19"/>
<ellipse cx="643.2" cy="166.7" rx="0.98" ry="0.66"/>
<ellipse cx="645.9" cy="173.6" rx="1.46" ry="1.07"/>
<ellipse cx="656.8" cy="158.5" rx="0.85" ry="0.88"/>
<ellipse cx="640.6" cy="156.8" rx="1.07" ry="1.01"/>
<ellipse cx="645.9" cy="159.5" rx="1.46" ry="1.27"/>
<ellipse cx="644.9" cy="153.0" rx="0.73" ry="1.19"/>
<ellipse cx="635.0" cy="170.1" rx="1.21" ry="0.78"/>
<ellipse cx="653.0" cy="151.5" rx="0.82" ry="0.89"/>
<ellipse cx="634.6" cy="173.4" rx="0.91" ry="0.66"/>
<ellipse cx="635.1" cy="168.0" rx="1.10" ry="1.01"/>
<ellipse cx="649.7" cy="172.8" rx="1.56" ry="1.05"/>
<ellipse cx="638.8" cy="163.8" rx="0.86" ry="0.57"/>
<ellipse cx="645.3" cy="170.3" rx="0.86" ry="0.76"/>
<ellipse cx="642.3" cy="169.8" rx="1.17" ry="1.00"/>
<ellipse cx="652.1" cy="161.6" rx="1.41" ry="1.21"/>
<ellipse cx="636.1" cy="176.2" rx="1.35" ry="0.65"/>
<ellipse cx="644.9" cy="167.9" rx="1.52" ry="0.83"/>
<ellipse cx="647.7" cy="174.7" rx="1.42" ry="1.24"/>
<ellipse cx="645.1" cy="168.6" rx="0.88" ry="1.08"/>
<ellipse cx="653.6" cy="168.3" rx="1.35" ry="0.71"/>
<ellipse cx="655.6" cy="177.5" rx="1.58" ry="0.95"/>
<ellipse cx="653.0" cy="159.7" rx="1.52" ry="1.18"/>
<ellipse cx="642.4" cy="153.2" rx="1.10" ry="0.96"/>
<ellipse cx="652.3" cy="162.8" rx="0.82" ry="1.09"/>
<ellipse cx="641.0" cy="167.2" rx="0.92" ry="0.83"/>
<ellipse cx="652.6" cy="158.0" rx="0.90" ry="0.93"/>
<ellipse cx="651.6" cy="167.8" rx="1.28" ry="1.17"/>
<ellipse cx="647.9" cy="169.3" rx="0.86" ry="0.76"/>
<ellipse cx="648.4" cy="160.1" rx="1.31" ry="1.00"/>
<ellipse cx="648.4" cy="167.8" rx="1.19" ry="0.81"/>
<ellipse cx="646.1" cy="167.8" rx="1.43" ry="0.76"/>
<ellipse cx="653.6" cy="169.6" rx="1.17" ry="0.96"/>
<ellipse cx="643.2" cy="163.5" rx="1.15" ry="0.98"/>
<ellipse cx="640.4" cy="169.6" rx="1.16" ry="0.86"/>
<ellipse cx="652.8" cy="163.9" rx="1.14" ry="1.03"/>
<ellipse cx="641.1" cy="163.5" rx="1.09" ry="1.18"/>
<ellipse cx="654.8" cy="159.8" rx="1.13" ry="0.71"/>
<ellipse cx="639.8" cy="196.2" rx="1.52" ry="0.94"/>
<ellipse cx="639.3" cy="188.4" rx="1.29" ry="1.23"/>
<ellipse cx="638.4" cy="195.7" rx="0.82" ry="0.76"/>
<ellipse cx="638.9" cy="194.6" rx="1.06" ry="0.87"/>
<ellipse cx="640.7" cy="187.3" rx="1.38" ry="0.72"/>
<ellipse cx="640.2" cy="189.1" rx="0.96" ry="0.98"/>
<ellipse cx="639.9" cy="190.7" rx="1.13" ry="0.98"/>
<ellipse cx="638.6" cy="188.6" rx="1.31" ry="1.05"/>
<ellipse cx="640.3" cy="196.6" rx="1.29" ry="1.19"/>
<ellipse cx="638.9" cy="195.3" rx="1.45" ry="1.22"/>
<ellipse cx="639.3" cy="189.9" rx="1.54" ry="0.78"/>
<ellipse cx="642.5" cy="197.1" rx="0.91" ry="0.79"/>
<ellipse cx="641.2" cy="189.2" rx="0.88" ry="1.17"/>
<ellipse cx="639.8" cy="195.9" rx="0.90" ry="0.90"/>
<ellipse cx="641.0" cy="186.2" rx="0.96" ry="1.08"/>
<ellipse cx="642.1" cy="198.1" rx="0.89" ry="0.96"/>
<ellipse cx="641.4" cy="192.3" rx="1.35" ry="0.76"/>
<ellipse cx="638.1" cy="187.3" rx="0.83" ry="0.99"/>
<ellipse cx="640.2" cy="193.1" rx="0.92" ry="0.76"/>
<ellipse cx="638.8" cy="196.5" rx="1.59" ry="1.23"/>
<ellipse cx="638.2" cy="186.8" rx="1.56" ry="0.94"/>
<ellipse cx="641.4" cy="190.1" rx="1.17" ry="0.97"/>
<ellipse cx="639.8" cy="193.5" rx="0.81" ry="1.09"/>
<ellipse cx="641.8" cy="188.3" rx="1.16" ry="1.11"/>
<ellipse cx="639.7" cy="188.4" rx="0.93" ry="0.97"/>
<ellipse cx="637.9" cy="197.2" rx="1.44" ry="1.09"/>
<ellipse cx="648.5" cy="185.1" rx="1.14" ry="1.01"/>
<ellipse cx="647.3" cy="186.0" rx="1.38" ry="0.84"/>
<ellipse cx="648.7" cy="185.4" rx="1.37" ry="1.11"/>
<ellipse cx="648.4" cy="205.1" rx="1.25" ry="0.94"/>
<ellipse cx="649.2" cy="204.9" rx="1.06" ry="0.95"/>
<ellipse cx="631.5" cy="208.4" rx="1.22" ry="0.65"/>
<ellipse cx="633.3" cy="210.9" rx="1.36" ry="0.81"/>
<ellipse cx="637.1" cy="211.2" rx="1.10" ry="1.12"/>
<ellipse cx="634.7" cy="210.0" rx="1.15" ry="1.36"/>
<ellipse cx="635.2" cy="211.5" rx="1.49" ry="1.35"/>
<ellipse cx="631.1" cy="210.7" rx="1.46" ry="0.82"/>
<ellipse cx="633.6" cy="205.9" rx="0.98" ry="0.91"/>
<ellipse cx="631.6" cy="207.6" rx="1.62" ry="1.04"/>
<ellipse cx="634.3" cy="213.7" rx="1.31" ry="1.36"/>
<ellipse cx="635.1" cy="212.4" rx="0.87" ry="1.07"/>
<ellipse cx="635.9" cy="205.9" rx="1.64" ry="0.76"/>
<ellipse cx="634.1" cy="206.9" rx="1.25" ry="1.08"/>
<ellipse cx="631.4" cy="213.5" rx="1.18" ry="1.02"/>
<ellipse cx="634.9" cy="208.6" rx="1.06" ry="1.11"/>
<ellipse cx="634.6" cy="207.9" rx="1.44" ry="0.85"/>
<ellipse cx="631.1" cy="207.6" rx="0.84" ry="0.75"/>
<ellipse cx="635.9" cy="208.8" rx="1.61" ry="1.18"/>
<ellipse cx="631.3" cy="213.9" rx="1.65" ry="0.69"/>
<ellipse cx="636.9" cy="209.2" rx="1.23" ry="1.34"/>
<ellipse cx="632.6" cy="209.9" rx="1.64" ry="1.16"/>
<ellipse cx="636.4" cy="220.9" rx="1.47" ry="1.06"/>
<ellipse cx="635.3" cy="219.3" rx="1.22" ry="0.83"/>
<ellipse cx="635.2" cy="218.9" rx="0.99" ry="0.97"/>
<ellipse cx="637.0" cy="218.5" rx="1.08" ry="1.05"/>
<ellipse cx="636.3" cy="220.0" rx="1.27" ry="1.28"/>
<ellipse cx="637.9" cy="219.8" rx="1.07" ry="0.78"/>
<ellipse cx="631.3" cy="225.5" rx="1.01" ry="0.70"/>
<ellipse cx="630.0" cy="225.1" rx="0.98" ry="0.80"/>
<ellipse cx="630.8" cy="225.4" rx="0.79" ry="0.66"/>
<ellipse cx="631.5" cy="226.1" rx="1.14" ry="0.58"/>
<ellipse cx="618.8" cy="231.0" rx="1.00" ry="0.91"/>
<ellipse cx="619.1" cy="232.0" rx="0.75" ry="0.61"/>
<ellipse cx="622.2" cy="232.0" rx="1.14" ry="0.77"/>
<ellipse cx="621.1" cy="230.8" rx="0.94" ry="0.98"/>
<ellipse cx="623.0" cy="230.3" rx="0.78" ry="1.01"/>
<ellipse cx="621.9" cy="232.8" rx="0.85" ry="0.80"/>
<ellipse cx="619.9" cy="233.0" rx="0.96" ry="0.93"/>
<ellipse cx="613.3" cy="237.6" rx="1.24" ry="1.12"/>
<ellipse cx="612.9" cy="238.4" rx="1.10" ry="0.70"/>
<ellipse cx="612.5" cy="235.6" rx="0.87" ry="1.00"/>
<ellipse cx="609.8" cy="240.5" rx="1.04" ry="1.14"/>
<ellipse cx="607.0" cy="236.7" rx="1.33" ry="0.69"/>
<ellipse cx="608.6" cy="240.8" rx="1.36" ry="0.82"/>
<ellipse cx="607.5" cy="237.9" rx="1.38" ry="0.87"/>
<ellipse cx="607.3" cy="240.7" rx="1.26" ry="1.23"/>
<ellipse cx="613.0" cy="242.3" rx="1.15" ry="1.15"/>
<ellipse cx="608.6" cy="237.5" rx="1.12" ry="1.24"/>
<ellipse cx="612.7" cy="237.0" rx="1.09" ry="0.87"/>
<ellipse cx="609.0" cy="238.2" rx="1.11" ry="0.76"/>
<ellipse cx="610.4" cy="241.4" rx="1.23" ry="1.18"/>
<ellipse cx="610.4" cy="236.4" rx="1.41" ry="1.20"/>
<ellipse cx="608.4" cy="235.2" rx="1.21" ry="0.99"/>
<ellipse cx="610.4" cy="242.7" rx="1.32" ry="1.15"/>
<ellipse cx="606.9" cy="239.4" rx="1.43" ry="0.69"/>
<ellipse cx="607.1" cy="240.9" rx="1.52" ry="0.69"/>
<ellipse cx="610.9" cy="236.2" rx="1.40" ry="1.06"/>
<ellipse cx="608.2" cy="236.8" rx="1.41" ry="0.97"/>
<ellipse cx="611.8" cy="238.2" rx="1.07" ry="1.26"/>
<ellipse cx="611.1" cy="238.9" rx="1.23" ry="1.10"/>
<ellipse cx="611.4" cy="242.3" rx="1.13" ry="1.17"/>
<ellipse cx="611.1" cy="241.8" rx="1.44" ry="1.17"/>
<ellipse cx="612.6" cy="242.7" rx="1.31" ry="0.98"/>
<ellipse cx="611.4" cy="241.4" rx="1.14" ry="0.91"/>
<ellipse cx="600.9" cy="248.8" rx="1.19" ry="0.66"/>
<ellipse cx="601.2" cy="246.4" rx="0.85" ry="0.62"/>
<ellipse cx="611.6" cy="245.8" rx="0.79" ry="0.54"/>
<ellipse cx="607.4" cy="249.0" rx="0.71" ry="0.51"/>
<ellipse cx="605.0" cy="248.1" rx="1.15" ry="0.50"/>
<ellipse cx="600.4" cy="246.3" rx="0.73" ry="0.59"/>
<ellipse cx="608.3" cy="248.2" rx="0.73" ry="0.57"/>
<ellipse cx="602.7" cy="246.3" rx="1.05" ry="0.63"/>
<ellipse cx="606.1" cy="249.2" rx="0.89" ry="0.61"/>
<ellipse cx="610.5" cy="249.6" rx="0.81" ry="0.74"/>
<ellipse cx="611.4" cy="247.7" rx="0.73" ry="0.50"/>
<ellipse cx="611.3" cy="249.1" rx="0.83" ry="0.73"/>
<ellipse cx="605.7" cy="246.7" rx="1.19" ry="0.80"/>
<ellipse cx="602.1" cy="245.5" rx="0.88" ry="0.66"/>
<ellipse cx="594.6" cy="251.4" rx="0.68" ry="0.44"/>
<ellipse cx="592.3" cy="250.1" rx="0.58" ry="0.61"/>
<ellipse cx="593.6" cy="251.2" rx="0.80" ry="0.46"/>
<ellipse cx="607.5" cy="254.0" rx="1.50" ry="1.30"/>
<ellipse cx="598.7" cy="268.7" rx="0.80" ry="0.60"/>
<ellipse cx="616.0" cy="89.0" rx="0.80" ry="0.70"/>
<ellipse cx="648.6" cy="114.3" rx="0.70" ry="0.65"/>
<ellipse cx="625.0" cy="130.0" rx="0.50" ry="0.40"/>
<ellipse cx="460.7" cy="141.1" rx="1.50" ry="1.10"/>
<ellipse cx="472.8" cy="148.2" rx="1.50" ry="1.40"/>
<ellipse cx="519.2" cy="74.4" rx="1.00" ry="0.90"/>
<ellipse cx="604.2" cy="174.8" rx="0.90" ry="0.80"/>
</g>
<text class="ct" x="573.0" y="42.6" text-anchor="middle">Yancheng</text>
<text class="ct" x="497.6" y="76.7" text-anchor="middle">Chuzhou</text>
<text class="ct" x="552.8" y="69.9" text-anchor="middle">Yangzhou</text>
<text class="ct" x="603.5" y="89.3" text-anchor="middle">Nantong</text>
<text class="ct" x="549.4" y="89.8" text-anchor="middle">Zhenjiang</text>
<text class="ct" x="523.9" y="98.1" text-anchor="middle">Nanjing</text>
<text class="ct" x="474.5" y="104.6" text-anchor="middle">Hefei</text>
<text class="ct" x="510.1" y="108.9" text-anchor="middle">Maanshan</text>
<text class="ct" x="556.2" y="107.1" text-anchor="middle">Changzhou</text>
<text class="ct" x="561.9" y="118.7" text-anchor="middle">Wuxi</text>
<text class="ct" x="500.3" y="121.8" text-anchor="middle">Wuhu</text>
<text class="ct" x="585.6" y="127.0" text-anchor="middle">Suzhou</text>
<text class="ct" x="620.3" y="128.2" text-anchor="middle">Shanghai</text>
<text class="ct" x="482.6" y="136.6" text-anchor="middle">Tongling</text>
<text class="ct" x="528.5" y="142.0" text-anchor="middle">Xuancheng</text>
<text class="ct" x="568.1" y="140.9" text-anchor="middle">Huzhou</text>
<text class="ct" x="596.4" y="144.5" text-anchor="middle">Jiaxing</text>
<text class="ct" x="442.0" y="148.7" text-anchor="middle">Anqing</text>
<text class="ct" x="475.3" y="157.4" text-anchor="middle">Chizhou</text>
<text class="ct" x="550.2" y="170.2" text-anchor="middle">Hangzhou</text>
<text class="ct" x="585.2" y="176.5" text-anchor="middle">Shaoxing</text>
<text class="ct" x="621.8" y="177.0" text-anchor="middle">Ningbo</text>
<text class="ct" x="644.8" y="164.5" text-anchor="middle">Zhoushan</text>
<text class="ct" x="569.6" y="198.2" text-anchor="middle">Jinhua</text>
<text class="ct" x="607.2" y="210.6" text-anchor="middle">Taizhou</text>
<text class="ct" x="578.0" y="245.7" text-anchor="middle">Wenzhou</text>
<text class="ttl" x="420" y="18.9" text-anchor="middle">Industrial Collaborative</text>
<text class="ttl" x="420" y="32.0" text-anchor="middle">Agglomeration Average</text>
<rect x="361.6" y="192.0" width="22.3" height="8.7" fill="#6699cf" stroke="#111" stroke-width="0.9"/>
<text class="ml" x="388.8" y="203.0">[0.000, 2.269)</text>
<rect x="361.6" y="209.3" width="22.3" height="8.7" fill="#f5f57c" stroke="#111" stroke-width="0.9"/>
<text class="ml" x="388.8" y="220.3">[2.269, 2.519)</text>
<rect x="361.6" y="226.6" width="22.3" height="8.7" fill="#f4a47a" stroke="#111" stroke-width="0.9"/>
<text class="ml" x="388.8" y="237.6">[2.519, 3.287)</text>
<g transform="translate(-1.2,-1.5)">
<path d="M367.1 263.1V269.1H475.9V263.1M394.3 265.4V269.1M421.4 265.4V269.1M448.4 265.4V269.1" fill="none" stroke="#111" stroke-width="1"/>
<text class="sb" x="367.1" y="259.3" text-anchor="middle">0</text>
<text class="sb" x="394.3" y="259.3" text-anchor="middle">85</text>
<text class="sb" x="421.4" y="259.3" text-anchor="middle">170</text>
<text class="sb" x="469.3" y="259.3">340 km</text>
</g>
<text class="n" x="676.3" y="10.7" text-anchor="middle">N</text>
<path d="M676.4 13.8L668.1 40.2L676.2 30.4Z" fill="#000" stroke="#000" stroke-width="0.6" stroke-linejoin="miter"/>
<path d="M676.4 13.8L683.8 40.2L676.2 30.4Z" fill="#fff" stroke="#000" stroke-width="1" stroke-linejoin="miter"/>
</g>
<text class="cap" x="350" y="305.8" text-anchor="middle">(a) The impact of ICA on MisL</text>
<text class="cap" x="350" y="629.9" text-anchor="middle">(b) The impact of ICA on MisK</text>
</svg>
</body></html>
